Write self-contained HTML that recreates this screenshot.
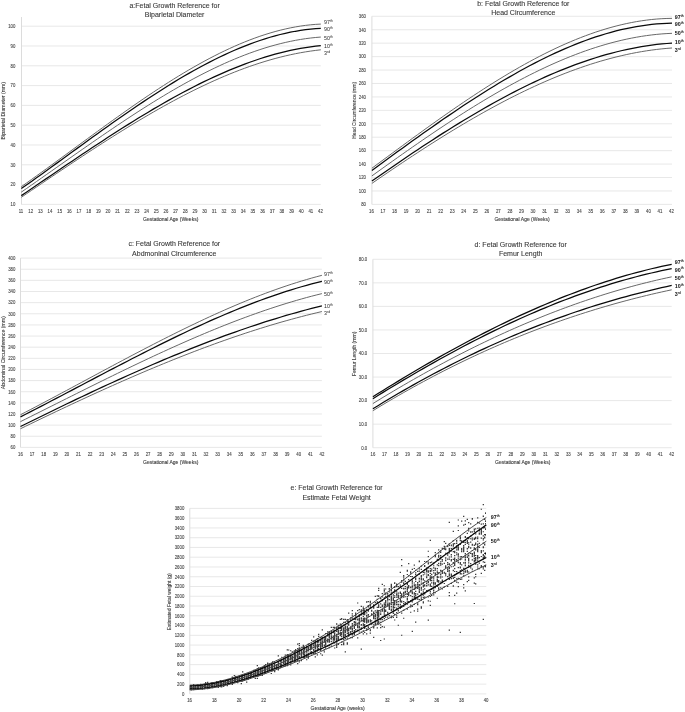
<!DOCTYPE html><html><head><meta charset="utf-8"><title>Fetal Growth Reference</title>
<style>html,body{margin:0;padding:0;background:#fff}svg{display:block}text{font-family:'Liberation Sans', sans-serif}</style></head><body>
<svg width="685" height="712" viewBox="0 0 685 712">
<rect width="685" height="712" fill="#fff"/>
<path d="M21.3 204.4H320.8M21.3 184.6H320.8M21.3 164.8H320.8M21.3 145H320.8M21.3 125.2H320.8M21.3 105.4H320.8M21.3 85.6H320.8M21.3 65.8H320.8M21.3 46H320.8M21.3 26.2H320.8" stroke="#dedede" stroke-width="0.7" fill="none"/>
<path d="M21.5 17V204.4" stroke="#dcdcdc" stroke-width="1" fill="none"/>
<g font-size="4.9" fill="#4a4a4a" stroke="#4a4a4a" stroke-width="0.12" text-anchor="end">
<text transform="translate(15.4 206.2) scale(0.88 1)">10</text>
<text transform="translate(15.4 186.4) scale(0.88 1)">20</text>
<text transform="translate(15.4 166.6) scale(0.88 1)">30</text>
<text transform="translate(15.4 146.8) scale(0.88 1)">40</text>
<text transform="translate(15.4 127) scale(0.88 1)">50</text>
<text transform="translate(15.4 107.2) scale(0.88 1)">60</text>
<text transform="translate(15.4 87.4) scale(0.88 1)">70</text>
<text transform="translate(15.4 67.6) scale(0.88 1)">80</text>
<text transform="translate(15.4 47.8) scale(0.88 1)">90</text>
<text transform="translate(15.4 28) scale(0.88 1)">100</text>
</g>
<g font-size="4.9" fill="#4a4a4a" stroke="#4a4a4a" stroke-width="0.12" text-anchor="middle">
<text transform="translate(21 212.8) scale(0.88 1)">11</text>
<text transform="translate(30.66 212.8) scale(0.88 1)">12</text>
<text transform="translate(40.32 212.8) scale(0.88 1)">13</text>
<text transform="translate(49.98 212.8) scale(0.88 1)">14</text>
<text transform="translate(59.65 212.8) scale(0.88 1)">15</text>
<text transform="translate(69.31 212.8) scale(0.88 1)">16</text>
<text transform="translate(78.97 212.8) scale(0.88 1)">17</text>
<text transform="translate(88.63 212.8) scale(0.88 1)">18</text>
<text transform="translate(98.29 212.8) scale(0.88 1)">19</text>
<text transform="translate(107.95 212.8) scale(0.88 1)">20</text>
<text transform="translate(117.61 212.8) scale(0.88 1)">21</text>
<text transform="translate(127.27 212.8) scale(0.88 1)">22</text>
<text transform="translate(136.94 212.8) scale(0.88 1)">23</text>
<text transform="translate(146.6 212.8) scale(0.88 1)">24</text>
<text transform="translate(156.26 212.8) scale(0.88 1)">25</text>
<text transform="translate(165.92 212.8) scale(0.88 1)">26</text>
<text transform="translate(175.58 212.8) scale(0.88 1)">27</text>
<text transform="translate(185.24 212.8) scale(0.88 1)">28</text>
<text transform="translate(194.9 212.8) scale(0.88 1)">29</text>
<text transform="translate(204.56 212.8) scale(0.88 1)">30</text>
<text transform="translate(214.23 212.8) scale(0.88 1)">31</text>
<text transform="translate(223.89 212.8) scale(0.88 1)">32</text>
<text transform="translate(233.55 212.8) scale(0.88 1)">33</text>
<text transform="translate(243.21 212.8) scale(0.88 1)">34</text>
<text transform="translate(252.87 212.8) scale(0.88 1)">35</text>
<text transform="translate(262.53 212.8) scale(0.88 1)">36</text>
<text transform="translate(272.19 212.8) scale(0.88 1)">37</text>
<text transform="translate(281.85 212.8) scale(0.88 1)">38</text>
<text transform="translate(291.52 212.8) scale(0.88 1)">39</text>
<text transform="translate(301.18 212.8) scale(0.88 1)">40</text>
<text transform="translate(310.84 212.8) scale(0.88 1)">41</text>
<text transform="translate(320.5 212.8) scale(0.88 1)">42</text>
</g>
<g font-size="7" fill="#383838" stroke="#383838" stroke-width="0.1" text-anchor="middle">
<text x="174.6" y="7.7">a:Fetal Growth Reference for</text>
<text x="174.6" y="17.4">Biparietal Diameter</text>
</g>
<text x="170.7" y="220.8" font-size="5" fill="#383838" stroke="#383838" stroke-width="0.1" text-anchor="middle">Gestational Age (Weeks)</text>
<text transform="translate(5.1 110.7) rotate(-90)" font-size="5" fill="#383838" stroke="#383838" stroke-width="0.1" text-anchor="middle" textLength="57.4" lengthAdjust="spacingAndGlyphs">Biparietal Diameter (mm)</text>
<path d="M21.3 186.72 L26.38 183.14 L31.45 179.53 L36.53 175.9 L41.61 172.24 L46.68 168.57 L51.76 164.88 L56.83 161.17 L61.91 157.46 L66.99 153.74 L72.06 150.01 L77.14 146.28 L82.22 142.56 L87.29 138.84 L92.37 135.12 L97.44 131.42 L102.52 127.73 L107.6 124.06 L112.67 120.4 L117.75 116.77 L122.83 113.17 L127.9 109.59 L132.98 106.04 L138.05 102.53 L143.13 99.06 L148.21 95.62 L153.28 92.23 L158.36 88.89 L163.44 85.59 L168.51 82.35 L173.59 79.16 L178.66 76.03 L183.74 72.96 L188.82 69.95 L193.89 67.02 L198.97 64.15 L204.05 61.35 L209.12 58.64 L214.2 56 L219.27 53.44 L224.35 50.96 L229.43 48.58 L234.5 46.29 L239.58 44.09 L244.66 41.98 L249.73 39.98 L254.81 38.08 L259.88 36.28 L264.96 34.6 L270.04 33.02 L275.11 31.56 L280.19 30.22 L285.27 29 L290.34 27.9 L295.42 26.93 L300.49 26.09 L305.57 25.38 L310.65 24.81 L315.72 24.37 L320.8 24.08" stroke="#606060" stroke-width="0.95" fill="none" stroke-linejoin="round"/>
<path d="M21.3 188.61 L26.38 185.02 L31.45 181.41 L36.53 177.78 L41.61 174.14 L46.68 170.48 L51.76 166.81 L56.83 163.12 L61.91 159.44 L66.99 155.75 L72.06 152.05 L77.14 148.37 L82.22 144.68 L87.29 141.01 L92.37 137.34 L97.44 133.69 L102.52 130.05 L107.6 126.43 L112.67 122.84 L117.75 119.27 L122.83 115.72 L127.9 112.21 L132.98 108.73 L138.05 105.28 L143.13 101.87 L148.21 98.51 L153.28 95.18 L158.36 91.91 L163.44 88.68 L168.51 85.51 L173.59 82.39 L178.66 79.33 L183.74 76.33 L188.82 73.39 L193.89 70.52 L198.97 67.72 L204.05 64.99 L209.12 62.33 L214.2 59.75 L219.27 57.25 L224.35 54.83 L229.43 52.5 L234.5 50.26 L239.58 48.11 L244.66 46.05 L249.73 44.09 L254.81 42.23 L259.88 40.47 L264.96 38.82 L270.04 37.27 L275.11 35.84 L280.19 34.52 L285.27 33.31 L290.34 32.22 L295.42 31.26 L300.49 30.42 L305.57 29.71 L310.65 29.12 L315.72 28.67 L320.8 28.36" stroke="#0a0a0a" stroke-width="1.25" fill="none" stroke-linejoin="round"/>
<path d="M21.3 192.12 L26.38 188.61 L31.45 185.08 L36.53 181.53 L41.61 177.98 L46.68 174.42 L51.76 170.85 L56.83 167.28 L61.91 163.71 L66.99 160.15 L72.06 156.58 L77.14 153.02 L82.22 149.48 L87.29 145.94 L92.37 142.42 L97.44 138.91 L102.52 135.42 L107.6 131.96 L112.67 128.51 L117.75 125.1 L122.83 121.71 L127.9 118.35 L132.98 115.02 L138.05 111.73 L143.13 108.48 L148.21 105.27 L153.28 102.1 L158.36 98.97 L163.44 95.9 L168.51 92.87 L173.59 89.89 L178.66 86.97 L183.74 84.11 L188.82 81.3 L193.89 78.56 L198.97 75.88 L204.05 73.27 L209.12 70.73 L214.2 68.25 L219.27 65.86 L224.35 63.53 L229.43 61.29 L234.5 59.13 L239.58 57.05 L244.66 55.05 L249.73 53.15 L254.81 51.33 L259.88 49.61 L264.96 47.98 L270.04 46.45 L275.11 45.02 L280.19 43.7 L285.27 42.47 L290.34 41.36 L295.42 40.35 L300.49 39.46 L305.57 38.68 L310.65 38.02 L315.72 37.47 L320.8 37.05" stroke="#606060" stroke-width="0.95" fill="none" stroke-linejoin="round"/>
<path d="M21.3 195.62 L26.38 192.19 L31.45 188.74 L36.53 185.29 L41.61 181.84 L46.68 178.39 L51.76 174.94 L56.83 171.49 L61.91 168.04 L66.99 164.6 L72.06 161.18 L77.14 157.76 L82.22 154.35 L87.29 150.96 L92.37 147.59 L97.44 144.23 L102.52 140.9 L107.6 137.59 L112.67 134.3 L117.75 131.05 L122.83 127.81 L127.9 124.62 L132.98 121.45 L138.05 118.32 L143.13 115.22 L148.21 112.17 L153.28 109.15 L158.36 106.18 L163.44 103.25 L168.51 100.37 L173.59 97.54 L178.66 94.75 L183.74 92.03 L188.82 89.35 L193.89 86.73 L198.97 84.18 L204.05 81.68 L209.12 79.24 L214.2 76.87 L219.27 74.57 L224.35 72.33 L229.43 70.17 L234.5 68.08 L239.58 66.06 L244.66 64.12 L249.73 62.26 L254.81 60.48 L259.88 58.78 L264.96 57.17 L270.04 55.64 L275.11 54.2 L280.19 52.85 L285.27 51.6 L290.34 50.44 L295.42 49.38 L300.49 48.41 L305.57 47.55 L310.65 46.79 L315.72 46.13 L320.8 45.58" stroke="#0a0a0a" stroke-width="1.25" fill="none" stroke-linejoin="round"/>
<path d="M21.3 197.27 L26.38 193.84 L31.45 190.41 L36.53 186.97 L41.61 183.54 L46.68 180.11 L51.76 176.69 L56.83 173.27 L61.91 169.87 L66.99 166.47 L72.06 163.09 L77.14 159.72 L82.22 156.36 L87.29 153.03 L92.37 149.71 L97.44 146.42 L102.52 143.15 L107.6 139.9 L112.67 136.68 L117.75 133.49 L122.83 130.33 L127.9 127.2 L132.98 124.11 L138.05 121.05 L143.13 118.03 L148.21 115.05 L153.28 112.11 L158.36 109.21 L163.44 106.36 L168.51 103.55 L173.59 100.79 L178.66 98.09 L183.74 95.43 L188.82 92.83 L193.89 90.28 L198.97 87.79 L204.05 85.36 L209.12 82.99 L214.2 80.68 L219.27 78.44 L224.35 76.26 L229.43 74.15 L234.5 72.11 L239.58 70.14 L244.66 68.24 L249.73 66.42 L254.81 64.68 L259.88 63.02 L264.96 61.43 L270.04 59.93 L275.11 58.51 L280.19 57.18 L285.27 55.93 L290.34 54.78 L295.42 53.71 L300.49 52.74 L305.57 51.86 L310.65 51.08 L315.72 50.4 L320.8 49.81" stroke="#606060" stroke-width="0.95" fill="none" stroke-linejoin="round"/>
<g font-size="5.9" fill="#2c2c2c" font-weight="normal">
<text transform="translate(324 24) scale(0.91 1)">97<tspan font-size="3.9" dy="-2.1">th</tspan></text>
<text transform="translate(324 31.1) scale(0.91 1)">90<tspan font-size="3.9" dy="-2.1">th</tspan></text>
<text transform="translate(324 39.8) scale(0.91 1)">50<tspan font-size="3.9" dy="-2.1">th</tspan></text>
<text transform="translate(324 47.9) scale(0.91 1)">10<tspan font-size="3.9" dy="-2.1">th</tspan></text>
<text transform="translate(324 55.3) scale(0.91 1)">3<tspan font-size="3.9" dy="-2.1">rd</tspan></text>
</g>
<path d="M371.9 204.4H672M371.9 190.96H672M371.9 177.53H672M371.9 164.09H672M371.9 150.66H672M371.9 137.22H672M371.9 123.79H672M371.9 110.35H672M371.9 96.91H672M371.9 83.48H672M371.9 70.04H672M371.9 56.61H672M371.9 43.17H672M371.9 29.74H672M371.9 16.3H672" stroke="#dedede" stroke-width="0.7" fill="none"/>
<path d="M371.9 16.3V204.4" stroke="#dcdcdc" stroke-width="1" fill="none"/>
<g font-size="4.9" fill="#4a4a4a" stroke="#4a4a4a" stroke-width="0.12" text-anchor="end">
<text transform="translate(366 206.2) scale(0.88 1)">80</text>
<text transform="translate(366 192.76) scale(0.88 1)">100</text>
<text transform="translate(366 179.33) scale(0.88 1)">120</text>
<text transform="translate(366 165.89) scale(0.88 1)">140</text>
<text transform="translate(366 152.46) scale(0.88 1)">160</text>
<text transform="translate(366 139.02) scale(0.88 1)">180</text>
<text transform="translate(366 125.59) scale(0.88 1)">200</text>
<text transform="translate(366 112.15) scale(0.88 1)">220</text>
<text transform="translate(366 98.71) scale(0.88 1)">240</text>
<text transform="translate(366 85.28) scale(0.88 1)">260</text>
<text transform="translate(366 71.84) scale(0.88 1)">280</text>
<text transform="translate(366 58.41) scale(0.88 1)">300</text>
<text transform="translate(366 44.97) scale(0.88 1)">320</text>
<text transform="translate(366 31.54) scale(0.88 1)">340</text>
<text transform="translate(366 18.1) scale(0.88 1)">360</text>
</g>
<g font-size="4.9" fill="#4a4a4a" stroke="#4a4a4a" stroke-width="0.12" text-anchor="middle">
<text transform="translate(371.4 212.8) scale(0.88 1)">16</text>
<text transform="translate(382.94 212.8) scale(0.88 1)">17</text>
<text transform="translate(394.48 212.8) scale(0.88 1)">18</text>
<text transform="translate(406.03 212.8) scale(0.88 1)">19</text>
<text transform="translate(417.57 212.8) scale(0.88 1)">20</text>
<text transform="translate(429.11 212.8) scale(0.88 1)">21</text>
<text transform="translate(440.65 212.8) scale(0.88 1)">22</text>
<text transform="translate(452.2 212.8) scale(0.88 1)">23</text>
<text transform="translate(463.74 212.8) scale(0.88 1)">24</text>
<text transform="translate(475.28 212.8) scale(0.88 1)">25</text>
<text transform="translate(486.82 212.8) scale(0.88 1)">26</text>
<text transform="translate(498.37 212.8) scale(0.88 1)">27</text>
<text transform="translate(509.91 212.8) scale(0.88 1)">28</text>
<text transform="translate(521.45 212.8) scale(0.88 1)">29</text>
<text transform="translate(532.99 212.8) scale(0.88 1)">30</text>
<text transform="translate(544.53 212.8) scale(0.88 1)">31</text>
<text transform="translate(556.08 212.8) scale(0.88 1)">32</text>
<text transform="translate(567.62 212.8) scale(0.88 1)">33</text>
<text transform="translate(579.16 212.8) scale(0.88 1)">34</text>
<text transform="translate(590.7 212.8) scale(0.88 1)">35</text>
<text transform="translate(602.25 212.8) scale(0.88 1)">36</text>
<text transform="translate(613.79 212.8) scale(0.88 1)">37</text>
<text transform="translate(625.33 212.8) scale(0.88 1)">38</text>
<text transform="translate(636.87 212.8) scale(0.88 1)">39</text>
<text transform="translate(648.42 212.8) scale(0.88 1)">40</text>
<text transform="translate(659.96 212.8) scale(0.88 1)">41</text>
<text transform="translate(671.5 212.8) scale(0.88 1)">42</text>
</g>
<g font-size="7" fill="#383838" stroke="#383838" stroke-width="0.1" text-anchor="middle">
<text x="523.3" y="6.1">b: Fetal Growth Reference for</text>
<text x="523.3" y="15.4">Head Circumference</text>
</g>
<text x="522" y="220.8" font-size="5" fill="#383838" stroke="#383838" stroke-width="0.1" text-anchor="middle">Gestational Age (Weeks)</text>
<text transform="translate(355.5 110.3) rotate(-90)" font-size="5" fill="#383838" stroke="#383838" stroke-width="0.1" text-anchor="middle" textLength="57" lengthAdjust="spacingAndGlyphs">Head Circumference (mm)</text>
<path d="M371.9 168.24 L376.99 164.47 L382.07 160.71 L387.16 156.95 L392.25 153.19 L397.33 149.45 L402.42 145.71 L407.51 141.98 L412.59 138.26 L417.68 134.57 L422.76 130.88 L427.85 127.22 L432.94 123.58 L438.02 119.97 L443.11 116.38 L448.2 112.83 L453.28 109.3 L458.37 105.8 L463.46 102.35 L468.54 98.92 L473.63 95.54 L478.72 92.21 L483.8 88.91 L488.89 85.66 L493.97 82.46 L499.06 79.32 L504.15 76.22 L509.23 73.18 L514.32 70.2 L519.41 67.28 L524.49 64.42 L529.58 61.62 L534.67 58.89 L539.75 56.23 L544.84 53.64 L549.93 51.13 L555.01 48.68 L560.1 46.32 L565.18 44.03 L570.27 41.83 L575.36 39.71 L580.44 37.68 L585.53 35.74 L590.62 33.88 L595.7 32.12 L600.79 30.46 L605.88 28.89 L610.96 27.42 L616.05 26.05 L621.14 24.79 L626.22 23.63 L631.31 22.58 L636.39 21.64 L641.48 20.82 L646.57 20.11 L651.65 19.51 L656.74 19.04 L661.83 18.69 L666.91 18.46 L672 18.36" stroke="#606060" stroke-width="0.95" fill="none" stroke-linejoin="round"/>
<path d="M371.9 170.39 L376.99 166.67 L382.07 162.95 L387.16 159.24 L392.25 155.54 L397.33 151.85 L402.42 148.16 L407.51 144.49 L412.59 140.84 L417.68 137.2 L422.76 133.59 L427.85 129.99 L432.94 126.42 L438.02 122.87 L443.11 119.36 L448.2 115.87 L453.28 112.41 L458.37 108.99 L463.46 105.6 L468.54 102.25 L473.63 98.95 L478.72 95.68 L483.8 92.46 L488.89 89.28 L493.97 86.16 L499.06 83.08 L504.15 80.06 L509.23 77.09 L514.32 74.17 L519.41 71.32 L524.49 68.53 L529.58 65.8 L534.67 63.13 L539.75 60.53 L544.84 58 L549.93 55.54 L555.01 53.15 L560.1 50.84 L565.18 48.61 L570.27 46.46 L575.36 44.38 L580.44 42.39 L585.53 40.49 L590.62 38.67 L595.7 36.94 L600.79 35.31 L605.88 33.76 L610.96 32.32 L616.05 30.97 L621.14 29.72 L626.22 28.57 L631.31 27.53 L636.39 26.59 L641.48 25.76 L646.57 25.04 L651.65 24.43 L656.74 23.94 L661.83 23.56 L666.91 23.31 L672 23.17" stroke="#0a0a0a" stroke-width="1.25" fill="none" stroke-linejoin="round"/>
<path d="M371.9 175.92 L376.99 172.26 L382.07 168.61 L387.16 164.97 L392.25 161.35 L397.33 157.74 L402.42 154.15 L407.51 150.57 L412.59 147.02 L417.68 143.5 L422.76 139.99 L427.85 136.52 L432.94 133.07 L438.02 129.65 L443.11 126.26 L448.2 122.9 L453.28 119.58 L458.37 116.3 L463.46 113.05 L468.54 109.84 L473.63 106.68 L478.72 103.55 L483.8 100.48 L488.89 97.44 L493.97 94.46 L499.06 91.52 L504.15 88.64 L509.23 85.81 L514.32 83.04 L519.41 80.32 L524.49 77.66 L529.58 75.06 L534.67 72.52 L539.75 70.04 L544.84 67.63 L549.93 65.28 L555.01 63.01 L560.1 60.8 L565.18 58.66 L570.27 56.6 L575.36 54.61 L580.44 52.7 L585.53 50.87 L590.62 49.12 L595.7 47.45 L600.79 45.86 L605.88 44.36 L610.96 42.94 L616.05 41.61 L621.14 40.38 L626.22 39.23 L631.31 38.18 L636.39 37.22 L641.48 36.36 L646.57 35.6 L651.65 34.94 L656.74 34.38 L661.83 33.92 L666.91 33.57 L672 33.32" stroke="#606060" stroke-width="0.95" fill="none" stroke-linejoin="round"/>
<path d="M371.9 181.07 L376.99 177.51 L382.07 173.96 L387.16 170.43 L392.25 166.92 L397.33 163.43 L402.42 159.96 L407.51 156.52 L412.59 153.09 L417.68 149.7 L422.76 146.33 L427.85 142.99 L432.94 139.68 L438.02 136.4 L443.11 133.15 L448.2 129.94 L453.28 126.76 L458.37 123.62 L463.46 120.52 L468.54 117.45 L473.63 114.43 L478.72 111.45 L483.8 108.51 L488.89 105.62 L493.97 102.77 L499.06 99.98 L504.15 97.23 L509.23 94.53 L514.32 91.88 L519.41 89.29 L524.49 86.75 L529.58 84.27 L534.67 81.84 L539.75 79.48 L544.84 77.17 L549.93 74.93 L555.01 72.75 L560.1 70.63 L565.18 68.58 L570.27 66.6 L575.36 64.68 L580.44 62.84 L585.53 61.06 L590.62 59.36 L595.7 57.73 L600.79 56.18 L605.88 54.71 L610.96 53.31 L616.05 51.99 L621.14 50.76 L626.22 49.6 L631.31 48.53 L636.39 47.55 L641.48 46.65 L646.57 45.84 L651.65 45.12 L656.74 44.49 L661.83 43.95 L666.91 43.5 L672 43.15" stroke="#0a0a0a" stroke-width="1.25" fill="none" stroke-linejoin="round"/>
<path d="M371.9 183.41 L376.99 179.9 L382.07 176.41 L387.16 172.94 L392.25 169.49 L397.33 166.05 L402.42 162.65 L407.51 159.26 L412.59 155.91 L417.68 152.58 L422.76 149.27 L427.85 146 L432.94 142.76 L438.02 139.55 L443.11 136.37 L448.2 133.22 L453.28 130.12 L458.37 127.05 L463.46 124.01 L468.54 121.02 L473.63 118.07 L478.72 115.16 L483.8 112.29 L488.89 109.47 L493.97 106.69 L499.06 103.96 L504.15 101.28 L509.23 98.64 L514.32 96.06 L519.41 93.53 L524.49 91.06 L529.58 88.63 L534.67 86.27 L539.75 83.96 L544.84 81.7 L549.93 79.51 L555.01 77.38 L560.1 75.31 L565.18 73.3 L570.27 71.36 L575.36 69.49 L580.44 67.68 L585.53 65.94 L590.62 64.26 L595.7 62.66 L600.79 61.14 L605.88 59.68 L610.96 58.3 L616.05 56.99 L621.14 55.77 L626.22 54.62 L631.31 53.54 L636.39 52.56 L641.48 51.65 L646.57 50.82 L651.65 50.08 L656.74 49.43 L661.83 48.86 L666.91 48.38 L672 47.99" stroke="#606060" stroke-width="0.95" fill="none" stroke-linejoin="round"/>
<g font-size="5.9" fill="#111" font-weight="bold">
<text transform="translate(674.8 18.7) scale(0.91 1)">97<tspan font-size="3.4" dy="-2.1">th</tspan></text>
<text transform="translate(674.8 26.1) scale(0.91 1)">90<tspan font-size="3.4" dy="-2.1">th</tspan></text>
<text transform="translate(674.8 34.8) scale(0.91 1)">50<tspan font-size="3.4" dy="-2.1">th</tspan></text>
<text transform="translate(674.8 44.2) scale(0.91 1)">10<tspan font-size="3.4" dy="-2.1">th</tspan></text>
<text transform="translate(674.8 51.6) scale(0.91 1)">3<tspan font-size="3.4" dy="-2.1">rd</tspan></text>
</g>
<path d="M20.5 447.4H321.9M20.5 436.26H321.9M20.5 425.13H321.9M20.5 413.99H321.9M20.5 402.86H321.9M20.5 391.72H321.9M20.5 380.59H321.9M20.5 369.45H321.9M20.5 358.32H321.9M20.5 347.18H321.9M20.5 336.05H321.9M20.5 324.91H321.9M20.5 313.78H321.9M20.5 302.64H321.9M20.5 291.51H321.9M20.5 280.37H321.9M20.5 269.24H321.9M20.5 258.1H321.9" stroke="#dedede" stroke-width="0.7" fill="none"/>
<path d="M20.5 258.1V447.4" stroke="#dcdcdc" stroke-width="1" fill="none"/>
<g font-size="4.9" fill="#4a4a4a" stroke="#4a4a4a" stroke-width="0.12" text-anchor="end">
<text transform="translate(15.4 449.2) scale(0.88 1)">60</text>
<text transform="translate(15.4 438.06) scale(0.88 1)">80</text>
<text transform="translate(15.4 426.93) scale(0.88 1)">100</text>
<text transform="translate(15.4 415.79) scale(0.88 1)">120</text>
<text transform="translate(15.4 404.66) scale(0.88 1)">140</text>
<text transform="translate(15.4 393.52) scale(0.88 1)">160</text>
<text transform="translate(15.4 382.39) scale(0.88 1)">180</text>
<text transform="translate(15.4 371.25) scale(0.88 1)">200</text>
<text transform="translate(15.4 360.12) scale(0.88 1)">220</text>
<text transform="translate(15.4 348.98) scale(0.88 1)">240</text>
<text transform="translate(15.4 337.85) scale(0.88 1)">260</text>
<text transform="translate(15.4 326.71) scale(0.88 1)">280</text>
<text transform="translate(15.4 315.58) scale(0.88 1)">300</text>
<text transform="translate(15.4 304.44) scale(0.88 1)">320</text>
<text transform="translate(15.4 293.31) scale(0.88 1)">340</text>
<text transform="translate(15.4 282.17) scale(0.88 1)">360</text>
<text transform="translate(15.4 271.04) scale(0.88 1)">380</text>
<text transform="translate(15.4 259.9) scale(0.88 1)">400</text>
</g>
<g font-size="4.9" fill="#4a4a4a" stroke="#4a4a4a" stroke-width="0.12" text-anchor="middle">
<text transform="translate(20.5 455.8) scale(0.88 1)">16</text>
<text transform="translate(32.09 455.8) scale(0.88 1)">17</text>
<text transform="translate(43.68 455.8) scale(0.88 1)">18</text>
<text transform="translate(55.28 455.8) scale(0.88 1)">19</text>
<text transform="translate(66.87 455.8) scale(0.88 1)">20</text>
<text transform="translate(78.46 455.8) scale(0.88 1)">21</text>
<text transform="translate(90.05 455.8) scale(0.88 1)">22</text>
<text transform="translate(101.65 455.8) scale(0.88 1)">23</text>
<text transform="translate(113.24 455.8) scale(0.88 1)">24</text>
<text transform="translate(124.83 455.8) scale(0.88 1)">25</text>
<text transform="translate(136.42 455.8) scale(0.88 1)">26</text>
<text transform="translate(148.02 455.8) scale(0.88 1)">27</text>
<text transform="translate(159.61 455.8) scale(0.88 1)">28</text>
<text transform="translate(171.2 455.8) scale(0.88 1)">29</text>
<text transform="translate(182.79 455.8) scale(0.88 1)">30</text>
<text transform="translate(194.38 455.8) scale(0.88 1)">31</text>
<text transform="translate(205.98 455.8) scale(0.88 1)">32</text>
<text transform="translate(217.57 455.8) scale(0.88 1)">33</text>
<text transform="translate(229.16 455.8) scale(0.88 1)">34</text>
<text transform="translate(240.75 455.8) scale(0.88 1)">35</text>
<text transform="translate(252.35 455.8) scale(0.88 1)">36</text>
<text transform="translate(263.94 455.8) scale(0.88 1)">37</text>
<text transform="translate(275.53 455.8) scale(0.88 1)">38</text>
<text transform="translate(287.12 455.8) scale(0.88 1)">39</text>
<text transform="translate(298.72 455.8) scale(0.88 1)">40</text>
<text transform="translate(310.31 455.8) scale(0.88 1)">41</text>
<text transform="translate(321.9 455.8) scale(0.88 1)">42</text>
</g>
<g font-size="7" fill="#383838" stroke="#383838" stroke-width="0.1" text-anchor="middle">
<text x="174.3" y="246.1">c: Fetal Growth Reference for</text>
<text x="174.3" y="255.7">Abdmoninal Circumference</text>
</g>
<text x="170.7" y="463.8" font-size="5" fill="#383838" stroke="#383838" stroke-width="0.1" text-anchor="middle">Gestational Age (Weeks)</text>
<text transform="translate(5.1 352.7) rotate(-90)" font-size="5" fill="#383838" stroke="#383838" stroke-width="0.1" text-anchor="middle" textLength="73" lengthAdjust="spacingAndGlyphs">Abdominal Circumference (mm)</text>
<path d="M20.5 414.74 L25.61 412.1 L30.72 409.43 L35.83 406.76 L40.93 404.07 L46.04 401.37 L51.15 398.66 L56.26 395.94 L61.37 393.21 L66.48 390.48 L71.58 387.74 L76.69 385 L81.8 382.25 L86.91 379.51 L92.02 376.76 L97.13 374.02 L102.24 371.28 L107.34 368.54 L112.45 365.81 L117.56 363.09 L122.67 360.38 L127.78 357.67 L132.89 354.98 L137.99 352.3 L143.1 349.63 L148.21 346.98 L153.32 344.35 L158.43 341.73 L163.54 339.13 L168.65 336.55 L173.75 334 L178.86 331.46 L183.97 328.95 L189.08 326.47 L194.19 324.02 L199.3 321.59 L204.41 319.19 L209.51 316.82 L214.62 314.49 L219.73 312.19 L224.84 309.93 L229.95 307.7 L235.06 305.51 L240.16 303.35 L245.27 301.24 L250.38 299.17 L255.49 297.15 L260.6 295.17 L265.71 293.23 L270.82 291.34 L275.92 289.5 L281.03 287.71 L286.14 285.97 L291.25 284.28 L296.36 282.65 L301.47 281.07 L306.57 279.55 L311.68 278.08 L316.79 276.68 L321.9 275.34" stroke="#606060" stroke-width="0.95" fill="none" stroke-linejoin="round"/>
<path d="M20.5 416.89 L25.61 414.28 L30.72 411.67 L35.83 409.03 L40.93 406.39 L46.04 403.74 L51.15 401.07 L56.26 398.4 L61.37 395.73 L66.48 393.05 L71.58 390.36 L76.69 387.67 L81.8 384.98 L86.91 382.29 L92.02 379.61 L97.13 376.92 L102.24 374.24 L107.34 371.57 L112.45 368.9 L117.56 366.24 L122.67 363.58 L127.78 360.94 L132.89 358.31 L137.99 355.7 L143.1 353.1 L148.21 350.51 L153.32 347.94 L158.43 345.39 L163.54 342.86 L168.65 340.35 L173.75 337.86 L178.86 335.4 L183.97 332.96 L189.08 330.55 L194.19 328.16 L199.3 325.81 L204.41 323.48 L209.51 321.19 L214.62 318.93 L219.73 316.7 L224.84 314.5 L229.95 312.35 L235.06 310.23 L240.16 308.15 L245.27 306.11 L250.38 304.12 L255.49 302.16 L260.6 300.25 L265.71 298.39 L270.82 296.58 L275.92 294.81 L281.03 293.09 L286.14 291.42 L291.25 289.81 L296.36 288.25 L301.47 286.74 L306.57 285.29 L311.68 283.9 L316.79 282.56 L321.9 281.29" stroke="#0a0a0a" stroke-width="1.25" fill="none" stroke-linejoin="round"/>
<path d="M20.5 421.62 L25.61 419.08 L30.72 416.53 L35.83 413.98 L40.93 411.43 L46.04 408.87 L51.15 406.31 L56.26 403.75 L61.37 401.19 L66.48 398.63 L71.58 396.08 L76.69 393.52 L81.8 390.98 L86.91 388.43 L92.02 385.89 L97.13 383.36 L102.24 380.84 L107.34 378.33 L112.45 375.83 L117.56 373.33 L122.67 370.85 L127.78 368.39 L132.89 365.93 L137.99 363.49 L143.1 361.07 L148.21 358.66 L153.32 356.27 L158.43 353.9 L163.54 351.55 L168.65 349.22 L173.75 346.91 L178.86 344.63 L183.97 342.36 L189.08 340.12 L194.19 337.91 L199.3 335.72 L204.41 333.56 L209.51 331.43 L214.62 329.33 L219.73 327.26 L224.84 325.21 L229.95 323.2 L235.06 321.23 L240.16 319.29 L245.27 317.38 L250.38 315.51 L255.49 313.67 L260.6 311.87 L265.71 310.12 L270.82 308.4 L275.92 306.72 L281.03 305.08 L286.14 303.49 L291.25 301.94 L296.36 300.43 L301.47 298.97 L306.57 297.56 L311.68 296.2 L316.79 294.88 L321.9 293.61" stroke="#606060" stroke-width="0.95" fill="none" stroke-linejoin="round"/>
<path d="M20.5 426.48 L25.61 423.96 L30.72 421.45 L35.83 418.94 L40.93 416.44 L46.04 413.94 L51.15 411.46 L56.26 408.98 L61.37 406.51 L66.48 404.05 L71.58 401.6 L76.69 399.16 L81.8 396.74 L86.91 394.32 L92.02 391.92 L97.13 389.53 L102.24 387.16 L107.34 384.8 L112.45 382.45 L117.56 380.12 L122.67 377.81 L127.78 375.51 L132.89 373.23 L137.99 370.97 L143.1 368.72 L148.21 366.49 L153.32 364.29 L158.43 362.1 L163.54 359.93 L168.65 357.78 L173.75 355.66 L178.86 353.56 L183.97 351.48 L189.08 349.42 L194.19 347.39 L199.3 345.38 L204.41 343.39 L209.51 341.43 L214.62 339.5 L219.73 337.59 L224.84 335.71 L229.95 333.86 L235.06 332.04 L240.16 330.24 L245.27 328.48 L250.38 326.74 L255.49 325.04 L260.6 323.36 L265.71 321.72 L270.82 320.11 L275.92 318.53 L281.03 316.98 L286.14 315.47 L291.25 313.99 L296.36 312.55 L301.47 311.15 L306.57 309.77 L311.68 308.44 L316.79 307.14 L321.9 305.88" stroke="#0a0a0a" stroke-width="1.25" fill="none" stroke-linejoin="round"/>
<path d="M20.5 428.72 L25.61 426.24 L30.72 423.76 L35.83 421.3 L40.93 418.84 L46.04 416.39 L51.15 413.96 L56.26 411.53 L61.37 409.11 L66.48 406.7 L71.58 404.3 L76.69 401.92 L81.8 399.55 L86.91 397.19 L92.02 394.84 L97.13 392.51 L102.24 390.19 L107.34 387.89 L112.45 385.6 L117.56 383.33 L122.67 381.08 L127.78 378.84 L132.89 376.62 L137.99 374.42 L143.1 372.23 L148.21 370.07 L153.32 367.92 L158.43 365.8 L163.54 363.69 L168.65 361.61 L173.75 359.55 L178.86 357.51 L183.97 355.5 L189.08 353.5 L194.19 351.53 L199.3 349.59 L204.41 347.67 L209.51 345.77 L214.62 343.9 L219.73 342.06 L224.84 340.25 L229.95 338.46 L235.06 336.7 L240.16 334.97 L245.27 333.26 L250.38 331.59 L255.49 329.95 L260.6 328.33 L265.71 326.75 L270.82 325.2 L275.92 323.68 L281.03 322.2 L286.14 320.75 L291.25 319.33 L296.36 317.94 L301.47 316.59 L306.57 315.28 L311.68 314 L316.79 312.76 L321.9 311.55" stroke="#606060" stroke-width="0.95" fill="none" stroke-linejoin="round"/>
<g font-size="5.9" fill="#2c2c2c" font-weight="normal">
<text transform="translate(324 276.2) scale(0.91 1)">97<tspan font-size="3.9" dy="-2.1">th</tspan></text>
<text transform="translate(324 283.6) scale(0.91 1)">90<tspan font-size="3.9" dy="-2.1">th</tspan></text>
<text transform="translate(324 295.7) scale(0.91 1)">50<tspan font-size="3.9" dy="-2.1">th</tspan></text>
<text transform="translate(324 308) scale(0.91 1)">10<tspan font-size="3.9" dy="-2.1">th</tspan></text>
<text transform="translate(324 315.4) scale(0.91 1)">3<tspan font-size="3.9" dy="-2.1">rd</tspan></text>
</g>
<path d="M372.9 447.7H671.7M372.9 424.15H671.7M372.9 400.6H671.7M372.9 377.05H671.7M372.9 353.5H671.7M372.9 329.95H671.7M372.9 306.4H671.7M372.9 282.85H671.7M372.9 259.3H671.7" stroke="#dedede" stroke-width="0.7" fill="none"/>
<path d="M372.9 259.3V447.7" stroke="#dcdcdc" stroke-width="1" fill="none"/>
<g font-size="4.9" fill="#4a4a4a" stroke="#4a4a4a" stroke-width="0.12" text-anchor="end">
<text transform="translate(367.2 449.5) scale(0.88 1)">0.0</text>
<text transform="translate(367.2 425.95) scale(0.88 1)">10.0</text>
<text transform="translate(367.2 402.4) scale(0.88 1)">20.0</text>
<text transform="translate(367.2 378.85) scale(0.88 1)">30.0</text>
<text transform="translate(367.2 355.3) scale(0.88 1)">40.0</text>
<text transform="translate(367.2 331.75) scale(0.88 1)">50.0</text>
<text transform="translate(367.2 308.2) scale(0.88 1)">60.0</text>
<text transform="translate(367.2 284.65) scale(0.88 1)">70.0</text>
<text transform="translate(367.2 261.1) scale(0.88 1)">80.0</text>
</g>
<g font-size="4.9" fill="#4a4a4a" stroke="#4a4a4a" stroke-width="0.12" text-anchor="middle">
<text transform="translate(372.9 455.8) scale(0.88 1)">16</text>
<text transform="translate(384.39 455.8) scale(0.88 1)">17</text>
<text transform="translate(395.88 455.8) scale(0.88 1)">18</text>
<text transform="translate(407.38 455.8) scale(0.88 1)">19</text>
<text transform="translate(418.87 455.8) scale(0.88 1)">20</text>
<text transform="translate(430.36 455.8) scale(0.88 1)">21</text>
<text transform="translate(441.85 455.8) scale(0.88 1)">22</text>
<text transform="translate(453.35 455.8) scale(0.88 1)">23</text>
<text transform="translate(464.84 455.8) scale(0.88 1)">24</text>
<text transform="translate(476.33 455.8) scale(0.88 1)">25</text>
<text transform="translate(487.82 455.8) scale(0.88 1)">26</text>
<text transform="translate(499.32 455.8) scale(0.88 1)">27</text>
<text transform="translate(510.81 455.8) scale(0.88 1)">28</text>
<text transform="translate(522.3 455.8) scale(0.88 1)">29</text>
<text transform="translate(533.79 455.8) scale(0.88 1)">30</text>
<text transform="translate(545.28 455.8) scale(0.88 1)">31</text>
<text transform="translate(556.78 455.8) scale(0.88 1)">32</text>
<text transform="translate(568.27 455.8) scale(0.88 1)">33</text>
<text transform="translate(579.76 455.8) scale(0.88 1)">34</text>
<text transform="translate(591.25 455.8) scale(0.88 1)">35</text>
<text transform="translate(602.75 455.8) scale(0.88 1)">36</text>
<text transform="translate(614.24 455.8) scale(0.88 1)">37</text>
<text transform="translate(625.73 455.8) scale(0.88 1)">38</text>
<text transform="translate(637.22 455.8) scale(0.88 1)">39</text>
<text transform="translate(648.72 455.8) scale(0.88 1)">40</text>
<text transform="translate(660.21 455.8) scale(0.88 1)">41</text>
<text transform="translate(671.7 455.8) scale(0.88 1)">42</text>
</g>
<g font-size="7" fill="#383838" stroke="#383838" stroke-width="0.1" text-anchor="middle">
<text x="520.7" y="246.5">d: Fetal Growth Reference for</text>
<text x="520.7" y="256.2">Femur Length</text>
</g>
<text x="522.7" y="464.3" font-size="5" fill="#383838" stroke="#383838" stroke-width="0.1" text-anchor="middle">Gestational Age (Weeks)</text>
<text transform="translate(355.5 353.9) rotate(-90)" font-size="5" fill="#383838" stroke="#383838" stroke-width="0.1" text-anchor="middle" textLength="44.5" lengthAdjust="spacingAndGlyphs">Femur Length (mm)</text>
<path d="M372.9 396.75 L377.96 393.58 L383.03 390.42 L388.09 387.29 L393.16 384.18 L398.22 381.1 L403.29 378.04 L408.35 375.01 L413.42 372 L418.48 369.02 L423.54 366.07 L428.61 363.14 L433.67 360.24 L438.74 357.37 L443.8 354.53 L448.87 351.72 L453.93 348.93 L458.99 346.18 L464.06 343.46 L469.12 340.77 L474.19 338.11 L479.25 335.48 L484.32 332.88 L489.38 330.32 L494.45 327.79 L499.51 325.3 L504.57 322.84 L509.64 320.41 L514.7 318.02 L519.77 315.67 L524.83 313.35 L529.9 311.07 L534.96 308.83 L540.03 306.63 L545.09 304.46 L550.15 302.34 L555.22 300.25 L560.28 298.2 L565.35 296.19 L570.41 294.23 L575.48 292.3 L580.54 290.42 L585.61 288.58 L590.67 286.78 L595.73 285.03 L600.8 283.32 L605.86 281.66 L610.93 280.04 L615.99 278.46 L621.06 276.93 L626.12 275.45 L631.18 274.01 L636.25 272.62 L641.31 271.28 L646.38 269.99 L651.44 268.75 L656.51 267.55 L661.57 266.41 L666.64 265.31 L671.7 264.27" stroke="#0a0a0a" stroke-width="1.25" fill="none" stroke-linejoin="round"/>
<path d="M372.9 398.67 L377.96 395.52 L383.03 392.4 L388.09 389.3 L393.16 386.23 L398.22 383.18 L403.29 380.16 L408.35 377.17 L413.42 374.2 L418.48 371.25 L423.54 368.34 L428.61 365.45 L433.67 362.59 L438.74 359.76 L443.8 356.96 L448.87 354.19 L453.93 351.45 L458.99 348.74 L464.06 346.06 L469.12 343.42 L474.19 340.8 L479.25 338.22 L484.32 335.67 L489.38 333.15 L494.45 330.67 L499.51 328.22 L504.57 325.81 L509.64 323.43 L514.7 321.09 L519.77 318.78 L524.83 316.51 L529.9 314.28 L534.96 312.08 L540.03 309.93 L545.09 307.81 L550.15 305.73 L555.22 303.69 L560.28 301.68 L565.35 299.72 L570.41 297.8 L575.48 295.92 L580.54 294.09 L585.61 292.29 L590.67 290.54 L595.73 288.83 L600.8 287.16 L605.86 285.54 L610.93 283.96 L615.99 282.43 L621.06 280.94 L626.12 279.5 L631.18 278.1 L636.25 276.76 L641.31 275.45 L646.38 274.2 L651.44 272.99 L656.51 271.83 L661.57 270.72 L666.64 269.66 L671.7 268.65" stroke="#0a0a0a" stroke-width="1.25" fill="none" stroke-linejoin="round"/>
<path d="M372.9 403.57 L377.96 400.46 L383.03 397.37 L388.09 394.32 L393.16 391.29 L398.22 388.3 L403.29 385.33 L408.35 382.4 L413.42 379.5 L418.48 376.63 L423.54 373.79 L428.61 370.98 L433.67 368.2 L438.74 365.46 L443.8 362.75 L448.87 360.06 L453.93 357.42 L458.99 354.8 L464.06 352.22 L469.12 349.67 L474.19 347.15 L479.25 344.67 L484.32 342.22 L489.38 339.81 L494.45 337.42 L499.51 335.08 L504.57 332.76 L509.64 330.48 L514.7 328.24 L519.77 326.03 L524.83 323.85 L529.9 321.72 L534.96 319.61 L540.03 317.54 L545.09 315.51 L550.15 313.51 L555.22 311.55 L560.28 309.63 L565.35 307.74 L570.41 305.89 L575.48 304.07 L580.54 302.3 L585.61 300.56 L590.67 298.85 L595.73 297.19 L600.8 295.56 L605.86 293.97 L610.93 292.42 L615.99 290.91 L621.06 289.43 L626.12 288 L631.18 286.6 L636.25 285.24 L641.31 283.92 L646.38 282.64 L651.44 281.4 L656.51 280.2 L661.57 279.04 L666.64 277.92 L671.7 276.84" stroke="#606060" stroke-width="0.95" fill="none" stroke-linejoin="round"/>
<path d="M372.9 408.79 L377.96 405.67 L383.03 402.59 L388.09 399.54 L393.16 396.54 L398.22 393.57 L403.29 390.63 L408.35 387.73 L413.42 384.87 L418.48 382.05 L423.54 379.26 L428.61 376.5 L433.67 373.78 L438.74 371.1 L443.8 368.46 L448.87 365.85 L453.93 363.27 L458.99 360.73 L464.06 358.23 L469.12 355.76 L474.19 353.33 L479.25 350.93 L484.32 348.57 L489.38 346.25 L494.45 343.95 L499.51 341.7 L504.57 339.48 L509.64 337.29 L514.7 335.14 L519.77 333.02 L524.83 330.94 L529.9 328.9 L534.96 326.89 L540.03 324.91 L545.09 322.97 L550.15 321.06 L555.22 319.18 L560.28 317.34 L565.35 315.54 L570.41 313.77 L575.48 312.03 L580.54 310.33 L585.61 308.66 L590.67 307.03 L595.73 305.43 L600.8 303.86 L605.86 302.33 L610.93 300.83 L615.99 299.36 L621.06 297.93 L626.12 296.53 L631.18 295.17 L636.25 293.83 L641.31 292.54 L646.38 291.27 L651.44 290.04 L656.51 288.84 L661.57 287.68 L666.64 286.54 L671.7 285.44" stroke="#0a0a0a" stroke-width="1.25" fill="none" stroke-linejoin="round"/>
<path d="M372.9 410.72 L377.96 407.63 L383.03 404.58 L388.09 401.57 L393.16 398.6 L398.22 395.66 L403.29 392.76 L408.35 389.9 L413.42 387.08 L418.48 384.29 L423.54 381.55 L428.61 378.83 L433.67 376.16 L438.74 373.52 L443.8 370.92 L448.87 368.36 L453.93 365.83 L458.99 363.34 L464.06 360.88 L469.12 358.46 L474.19 356.08 L479.25 353.73 L484.32 351.42 L489.38 349.15 L494.45 346.91 L499.51 344.7 L504.57 342.53 L509.64 340.4 L514.7 338.3 L519.77 336.23 L524.83 334.2 L529.9 332.2 L534.96 330.24 L540.03 328.32 L545.09 326.42 L550.15 324.56 L555.22 322.74 L560.28 320.95 L565.35 319.19 L570.41 317.46 L575.48 315.77 L580.54 314.11 L585.61 312.49 L590.67 310.9 L595.73 309.34 L600.8 307.81 L605.86 306.32 L610.93 304.85 L615.99 303.42 L621.06 302.03 L626.12 300.66 L631.18 299.33 L636.25 298.03 L641.31 296.76 L646.38 295.52 L651.44 294.31 L656.51 293.14 L661.57 291.99 L666.64 290.88 L671.7 289.8" stroke="#606060" stroke-width="0.95" fill="none" stroke-linejoin="round"/>
<g font-size="5.9" fill="#111" font-weight="bold">
<text transform="translate(674.8 264) scale(0.91 1)">97<tspan font-size="3.4" dy="-2.1">th</tspan></text>
<text transform="translate(674.8 271.5) scale(0.91 1)">90<tspan font-size="3.4" dy="-2.1">th</tspan></text>
<text transform="translate(674.8 279.6) scale(0.91 1)">50<tspan font-size="3.4" dy="-2.1">th</tspan></text>
<text transform="translate(674.8 288.3) scale(0.91 1)">10<tspan font-size="3.4" dy="-2.1">th</tspan></text>
<text transform="translate(674.8 295.85) scale(0.91 1)">3<tspan font-size="3.4" dy="-2.1">rd</tspan></text>
</g>
<path d="M189.8 693.9H486.3M189.8 684.14H486.3M189.8 674.37H486.3M189.8 664.61H486.3M189.8 654.85H486.3M189.8 645.08H486.3M189.8 635.32H486.3M189.8 625.56H486.3M189.8 615.79H486.3M189.8 606.03H486.3M189.8 596.27H486.3M189.8 586.51H486.3M189.8 576.74H486.3M189.8 566.98H486.3M189.8 557.22H486.3M189.8 547.45H486.3M189.8 537.69H486.3M189.8 527.93H486.3M189.8 518.16H486.3M189.8 508.4H486.3" stroke="#dedede" stroke-width="0.7" fill="none"/>
<path d="M189.8 508.4V693.9" stroke="#dcdcdc" stroke-width="1" fill="none"/>
<g font-size="4.9" fill="#4a4a4a" stroke="#4a4a4a" stroke-width="0.12" text-anchor="end">
<text transform="translate(184.3 695.7) scale(0.88 1)">0</text>
<text transform="translate(184.3 685.94) scale(0.88 1)">200</text>
<text transform="translate(184.3 676.17) scale(0.88 1)">400</text>
<text transform="translate(184.3 666.41) scale(0.88 1)">600</text>
<text transform="translate(184.3 656.65) scale(0.88 1)">800</text>
<text transform="translate(184.3 646.88) scale(0.88 1)">1000</text>
<text transform="translate(184.3 637.12) scale(0.88 1)">1200</text>
<text transform="translate(184.3 627.36) scale(0.88 1)">1400</text>
<text transform="translate(184.3 617.59) scale(0.88 1)">1600</text>
<text transform="translate(184.3 607.83) scale(0.88 1)">1800</text>
<text transform="translate(184.3 598.07) scale(0.88 1)">2000</text>
<text transform="translate(184.3 588.31) scale(0.88 1)">2200</text>
<text transform="translate(184.3 578.54) scale(0.88 1)">2400</text>
<text transform="translate(184.3 568.78) scale(0.88 1)">2600</text>
<text transform="translate(184.3 559.02) scale(0.88 1)">2800</text>
<text transform="translate(184.3 549.25) scale(0.88 1)">3000</text>
<text transform="translate(184.3 539.49) scale(0.88 1)">3200</text>
<text transform="translate(184.3 529.73) scale(0.88 1)">3400</text>
<text transform="translate(184.3 519.96) scale(0.88 1)">3600</text>
<text transform="translate(184.3 510.2) scale(0.88 1)">3800</text>
</g>
<g font-size="4.9" fill="#4a4a4a" stroke="#4a4a4a" stroke-width="0.12" text-anchor="middle">
<text transform="translate(189.6 702.2) scale(0.88 1)">16</text>
<text transform="translate(214.31 702.2) scale(0.88 1)">18</text>
<text transform="translate(239.02 702.2) scale(0.88 1)">20</text>
<text transform="translate(263.73 702.2) scale(0.88 1)">22</text>
<text transform="translate(288.43 702.2) scale(0.88 1)">24</text>
<text transform="translate(313.14 702.2) scale(0.88 1)">26</text>
<text transform="translate(337.85 702.2) scale(0.88 1)">28</text>
<text transform="translate(362.56 702.2) scale(0.88 1)">30</text>
<text transform="translate(387.27 702.2) scale(0.88 1)">32</text>
<text transform="translate(411.98 702.2) scale(0.88 1)">34</text>
<text transform="translate(436.68 702.2) scale(0.88 1)">36</text>
<text transform="translate(461.39 702.2) scale(0.88 1)">38</text>
<text transform="translate(486.1 702.2) scale(0.88 1)">40</text>
</g>
<g font-size="7" fill="#383838" stroke="#383838" stroke-width="0.1" text-anchor="middle">
<text x="336.6" y="490.3">e: Fetal Growth Reference for</text>
<text x="336.6" y="499.7">Estimate Fetal Weight</text>
</g>
<text x="337.7" y="710.1" font-size="5" fill="#383838" stroke="#383838" stroke-width="0.1" text-anchor="middle">Gestational Age (weeks)</text>
<text transform="translate(171.2 601.8) rotate(-90)" font-size="5" fill="#383838" stroke="#383838" stroke-width="0.1" text-anchor="middle" textLength="57" lengthAdjust="spacingAndGlyphs">Estimated Fetal weight (g)</text>
<path d="M284.75 658.87h1M348.25 621.55h1M207.25 686.31h1M210.75 685.49h1M314.75 645.64h1M374.75 616.62h1M360.75 649.21h1M443.75 548.84h1M231.75 679.98h1M242.25 676.86h1M378.25 617.99h1M207.25 684.95h1M390.75 610.28h1M323.75 640.21h1M424.25 584.87h1M344.75 634.47h1M406.75 599.99h1M313.25 636.79h1M235.25 680.31h1M415.25 587.83h1M448.75 573.87h1M360.75 611.76h1M438.25 560.21h1M207.25 686.44h1M381.75 593.6h1M304.25 652.17h1M196.75 687.73h1M207.25 685.83h1M228.25 681.78h1M214.25 683.67h1M351.75 618.09h1M272.25 669.43h1M295.25 650.47h1M242.25 680.41h1M258.25 674.73h1M191.25 687.23h1M298.75 661.88h1M343.25 636.86h1M390.75 585.54h1M448.75 557.01h1M306.25 652.23h1M207.25 685.68h1M251.25 673.91h1M189.75 686.58h1M219.75 683.98h1M371.25 613.87h1M263.75 671.19h1M441.75 561.19h1M327.25 641.98h1M291.75 657.79h1M434.75 574.06h1M346.75 628.27h1M350.25 620.08h1M445.25 565.88h1M267.25 669.53h1M346.75 626.73h1M286.75 659.38h1M441.75 548.57h1M431.25 578.23h1M295.25 660.45h1M198.25 687.14h1M473.75 538.36h1M466.75 519.29h1M254.75 673.83h1M247.75 675.3h1M438.25 556.87h1M383.75 606.58h1M459.75 564.24h1M411.75 596.64h1M288.25 659.3h1M477.25 558.79h1M404.75 588.65h1M226.75 680.48h1M233.75 677.79h1M480.75 552.24h1M228.25 683.81h1M477.25 557.58h1M318.25 648.86h1M434.75 573.22h1M260.25 669.99h1M267.25 669.66h1M293.75 656.19h1M362.75 614.23h1M337.75 637.42h1M344.75 624.4h1M191.25 687.23h1M240.75 680.7h1M286.75 659.5h1M353.75 624.72h1M263.75 671.02h1M418.75 599.59h1M459.75 559.65h1M371.25 624.15h1M323.75 642.08h1M330.75 631.19h1M468.25 560.95h1M355.25 613.1h1M224.75 683.55h1M210.75 685.44h1M422.75 578.93h1M235.25 680.35h1M450.75 583.45h1M254.75 671.73h1M482.75 547.72h1M237.25 680.94h1M247.75 675.12h1M403.25 583.42h1M194.75 687.05h1M374.75 615.91h1M422.75 583.53h1M221.25 683.5h1M268.75 667.44h1M314.75 640.38h1M233.75 681.73h1M358.75 623.36h1M394.25 604.97h1M210.75 683.92h1M214.25 685.52h1M208.75 684.95h1M353.75 630.58h1M268.75 666.22h1M221.25 682.33h1M203.75 686.15h1M415.25 579.36h1M337.75 630.33h1M263.75 666.84h1M406.75 599.53h1M466.75 556.96h1M433.25 588.91h1M306.25 649.18h1M394.25 592.98h1M399.75 598.77h1M309.75 649.85h1M210.75 685.15h1M265.25 669.02h1M447.25 562.59h1M272.25 666.51h1M235.25 678.68h1M267.25 663.1h1M261.75 672.12h1M281.25 662.79h1M330.75 637.98h1M249.75 675.45h1M216.25 684.5h1M201.75 685.72h1M362.75 619.34h1M411.75 599.2h1M304.25 656.48h1M480.75 530.51h1M201.75 685.22h1M454.25 577.45h1M230.25 682.9h1M339.75 628.32h1M362.75 630.87h1M392.75 606.45h1M228.25 682.72h1M221.25 682.63h1M374.75 621.61h1M334.25 627.29h1M337.75 634.14h1M385.25 594.1h1M212.25 684.44h1M406.75 588.91h1M336.25 627.07h1M330.75 641.47h1M380.25 622.47h1M233.75 680.38h1M357.25 603.02h1M207.25 686.2h1M390.75 590.3h1M343.25 637.37h1M454.25 559.24h1M478.75 543.42h1M433.25 577.26h1M323.75 642.25h1M251.25 673.56h1M231.75 684.32h1M433.25 580.77h1M452.75 566.24h1M334.25 642.87h1M191.25 688.52h1M231.75 680.8h1M283.25 661.74h1M438.25 573.72h1M464.75 562.33h1M300.75 660.55h1M485 553.88h1M270.75 668.36h1M219.75 683.27h1M263.75 671.51h1M341.25 630.46h1M452.75 551.73h1M376.75 595.82h1M403.25 618.26h1M406.75 609.23h1M274.25 664.57h1M464.75 544.51h1M277.75 662.26h1M478.75 547.36h1M355.25 615.24h1M238.75 678.31h1M337.75 631.31h1M457.75 545.47h1M246.25 676.51h1M290.25 656.82h1M358.75 619.84h1M411.75 599.32h1M300.75 651.83h1M207.25 686.52h1M339.75 619.44h1M445.25 566.36h1M307.75 647.33h1M471.75 518.57h1M198.25 688.79h1M454.25 595.37h1M306.25 650.1h1M434.75 555.87h1M221.25 686.16h1M344.75 636.03h1M381.75 626.72h1M325.25 642.31h1M258.25 672.37h1M380.25 611.19h1M378.25 607.04h1M223.25 681.58h1M304.25 650.08h1M367.75 611.11h1M473.75 548.56h1M450.75 574.2h1M473.75 547.73h1M281.25 659.73h1M314.75 645.96h1M387.25 595.09h1M290.25 659.56h1M392.75 597.03h1M339.75 624.19h1M477.25 557.28h1M254.75 670.36h1M277.75 661.51h1M256.75 673.41h1M387.25 600.95h1M253.25 674.36h1M231.75 680.41h1M456.25 559.65h1M406.75 570.45h1M244.25 677.19h1M410.25 576.49h1M300.75 652.63h1M238.75 677.63h1M473.75 549.16h1M475.25 544.74h1M433.25 565.74h1M203.75 687.52h1M246.25 676.2h1M456.25 547.69h1M417.25 582.82h1M200.25 684.52h1M411.75 581.42h1M290.25 659.63h1M267.25 663.34h1M283.25 661.86h1M461.25 556.63h1M468.25 542.9h1M473.75 547.76h1M304.25 651.91h1M464.75 540.72h1M427.75 581.51h1M369.75 629.77h1M284.75 664.18h1M247.75 673.73h1M263.75 669.58h1M286.75 659.95h1M450.75 554.69h1M217.75 684.28h1M399.75 604.34h1M373.25 612.15h1M411.75 581.58h1M438.25 587.78h1M357.25 630.76h1M263.75 667.67h1M235.25 678.46h1M307.75 653.31h1M339.75 632.1h1M482.75 516.16h1M330.75 634.27h1M201.75 688.6h1M224.75 681.35h1M464.75 520.78h1M447.25 576.53h1M470.25 548.26h1M366.25 621.76h1M231.75 681.55h1M265.25 671.93h1M193.25 688.2h1M390.75 600.36h1M426.25 572h1M208.75 684.84h1M378.25 606.21h1M237.25 679.83h1M281.25 665.19h1M281.25 664.92h1M445.25 573.29h1M297.25 653.64h1M191.25 685.74h1M314.75 644.86h1M325.25 645.25h1M193.25 688.74h1M216.25 685.06h1M298.75 656.39h1M344.75 630.54h1M221.25 685.77h1M247.75 675.78h1M468.25 522.66h1M464.75 557.89h1M457.75 578.38h1M422.75 597.34h1M309.75 645.16h1M254.75 676.32h1M343.25 633.41h1M404.75 591.34h1M201.75 688.4h1M438.25 580.89h1M367.75 626.91h1M314.75 648.31h1M316.75 647.95h1M196.75 688.09h1M334.25 635.46h1M325.25 633.48h1M330.75 636.18h1M216.25 684.1h1M341.25 624.92h1M406.75 589.85h1M341.25 626.33h1M471.75 545.04h1M443.75 549.23h1M247.75 676.03h1M336.25 624.16h1M422.75 589.83h1M208.75 686.94h1M456.25 543.11h1M431.25 569.19h1M251.25 673.13h1M339.75 633.85h1M237.25 678.94h1M390.75 599.14h1M223.25 683.5h1M378.25 621.33h1M360.75 610.77h1M221.25 681.67h1M426.25 581.66h1M482.75 555.81h1M320.25 645.61h1M410.25 573.26h1M378.25 606.56h1M362.75 626h1M200.25 687.63h1M371.25 623.36h1M228.25 681.13h1M383.75 607.07h1M221.25 683.45h1M256.75 674.92h1M374.75 618.28h1M230.25 680.32h1M217.75 684.56h1M447.25 564.57h1M193.25 688.35h1M355.25 629.89h1M466.75 537.79h1M263.75 669.57h1M309.75 649.77h1M207.25 685.96h1M468.25 555.27h1M249.75 676.87h1M431.25 586.38h1M281.25 662.96h1M422.75 579.91h1M191.25 686.38h1M410.25 605.15h1M256.75 671.68h1M288.25 658.29h1M396.25 591.81h1M353.75 633.5h1M422.75 591.79h1M475.25 550.01h1M450.75 554.81h1M410.25 590.46h1M410.25 600.94h1M260.25 667.86h1M376.75 615.99h1M328.75 645.73h1M396.25 593.82h1M358.75 628h1M253.25 674.56h1M231.75 681.63h1M221.25 682.41h1M198.25 687.42h1M394.25 610.57h1M208.75 687.12h1M297.25 652.89h1M208.75 687.74h1M461.25 551.69h1M223.25 683.23h1M440.25 565.2h1M376.75 622.25h1M219.75 682.06h1M284.75 658.53h1M196.75 687.13h1M298.75 651.95h1M475.25 576.76h1M198.25 687.03h1M318.25 644.23h1M348.25 633.85h1M445.25 548.88h1M189.75 686.34h1M415.25 587.06h1M336.25 635.23h1M244.25 678.62h1M267.25 668.6h1M274.25 664.96h1M221.25 681.53h1M214.25 684.43h1M374.75 624.75h1M307.75 656.15h1M452.75 531.33h1M251.25 675.06h1M302.75 645.34h1M258.25 674.47h1M413.75 585.87h1M293.75 657.79h1M385.25 602.4h1M238.75 681.28h1M226.75 681.31h1M452.75 562.85h1M397.75 593.01h1M235.25 679.28h1M344.75 626.91h1M286.75 657.44h1M219.75 680.61h1M219.75 686.5h1M406.75 574.48h1M247.75 676.48h1M304.25 654.27h1M307.75 648.73h1M376.75 623.63h1M231.75 682.02h1M459.75 567.19h1M358.75 622.52h1M403.25 605.75h1M418.75 592.28h1M380.25 624.91h1M283.25 662.65h1M420.75 588.07h1M376.75 611.89h1M373.25 605.94h1M388.75 599.61h1M420.75 587.45h1M334.25 634.87h1M237.25 679.38h1M468.25 559.55h1M350.25 627.68h1M341.25 638.95h1M311.25 653.84h1M251.25 675.45h1M226.75 683.41h1M295.25 653.95h1M193.25 686.99h1M314.75 647.77h1M256.75 674.41h1M468.25 562.86h1M306.25 651.32h1M228.25 681.39h1M328.75 647.66h1M256.75 671.05h1M433.25 578.86h1M328.75 640.86h1M436.75 559.55h1M441.75 572.12h1M316.75 641.64h1M189.75 687.55h1M279.75 665.39h1M316.75 649.43h1M464.75 570.92h1M207.25 684.82h1M231.75 683.58h1M376.75 610.69h1M383.75 607.55h1M219.75 683.22h1M291.75 656.24h1M457.75 558.04h1M369.75 620.38h1M387.25 593.64h1M247.75 677.79h1M346.75 629.64h1M353.75 632.06h1M258.25 670.77h1M327.25 635.9h1M336.25 641.55h1M191.25 687.35h1M328.75 645.65h1M300.75 655.49h1M473.75 531.05h1M198.25 686.27h1M392.75 594.86h1M341.25 634.43h1M456.25 540.42h1M290.25 657.65h1M298.75 658.47h1M251.25 674.41h1M314.75 653.58h1M434.75 582.81h1M339.75 634.1h1M383.75 597.82h1M288.25 660.51h1M378.25 604.83h1M201.75 687.06h1M203.75 688.76h1M191.25 686.48h1M385.25 589.01h1M459.75 573.15h1M396.25 608.22h1M390.75 600.33h1M415.25 572.88h1M242.25 675.13h1M383.75 604.34h1M433.25 572.95h1M279.75 666.53h1M284.75 664.63h1M205.25 685.57h1M201.75 685.17h1M461.25 540.88h1M193.25 688.38h1M480.75 531.64h1M311.25 644.01h1M233.75 677.97h1M191.25 687.58h1M216.25 685.07h1M228.25 679.64h1M406.75 591.66h1M203.75 686.18h1M406.75 608.94h1M376.75 614.11h1M265.25 671.71h1M401.25 595.24h1M431.25 577.56h1M281.25 662.91h1M334.25 639.25h1M298.75 657.67h1M231.75 681.56h1M297.25 658.04h1M304.25 655.74h1M470.25 547.76h1M207.25 687.45h1M397.75 595.16h1M478.75 557.71h1M367.75 619.99h1M300.75 650.34h1M367.75 606.79h1M189.75 688.56h1M314.75 652.82h1M201.75 687.73h1M429.75 568.6h1M441.75 582.72h1M392.75 595.07h1M353.75 628.33h1M249.75 675.27h1M369.75 633.18h1M327.25 639.08h1M424.25 574.02h1M216.25 683.76h1M360.75 632.19h1M452.75 578.26h1M246.25 676.72h1M242.25 678.23h1M309.75 652.5h1M233.75 675.59h1M221.25 682.26h1M422.75 574.94h1M343.25 619.44h1M200.25 684.6h1M357.25 624.13h1M420.75 608.07h1M433.25 563.62h1M265.25 668.12h1M214.25 684.68h1M355.25 619.66h1M459.75 579.52h1M366.25 621h1M265.25 668.84h1M380.25 598.13h1M321.75 644.69h1M475.25 528.8h1M265.25 669.55h1M457.75 520.02h1M422.75 595.08h1M381.75 606.1h1M413.75 589.31h1M390.75 606.96h1M221.25 681.84h1M265.25 667.78h1M260.25 669.86h1M390.75 589.4h1M200.25 686.67h1M254.75 670.14h1M230.25 682.4h1M217.75 682.05h1M323.75 645.57h1M433.25 592.77h1M254.75 673.13h1M401.25 601.92h1M268.75 668.46h1M235.25 680.27h1M238.75 675.99h1M283.25 660.75h1M207.25 686.32h1M387.25 603.17h1M265.25 667.17h1M297.25 644.13h1M217.75 684.45h1M456.25 541.08h1M478.75 530.01h1M429.75 585.18h1M436.75 568.55h1M244.25 680.39h1M358.75 616.73h1M242.25 677.45h1M212.25 687.09h1M369.75 621.97h1M371.25 614.99h1M429.75 585.4h1M406.75 596.75h1M403.25 579.03h1M438.25 565.58h1M336.25 623.94h1M447.25 564.45h1M244.25 676.37h1M298.75 657.27h1M191.25 688.51h1M224.75 682.84h1M431.25 570.91h1M302.75 654.87h1M207.25 684h1M341.25 642.07h1M348.25 613.22h1M244.25 676.58h1M263.75 669.86h1M396.25 602.07h1M194.75 688.36h1M397.75 606.2h1M447.25 567.95h1M336.25 636.69h1M272.25 664.93h1M364.25 614.34h1M233.75 682.46h1M434.75 584.1h1M304.25 657.71h1M306.25 647.64h1M420.75 588.77h1M318.25 642.18h1M427.75 562.13h1M205.25 687.35h1M473.75 539.33h1M376.75 614.29h1M346.75 623.74h1M194.75 686.73h1M477.25 541.26h1M429.75 605.38h1M452.75 545.17h1M390.75 600.68h1M350.25 619.9h1M343.25 634.83h1M471.75 553.58h1M224.75 681.57h1M473.75 560.76h1M348.25 628.88h1M226.75 681.42h1M274.25 664.32h1M216.25 686.75h1M358.75 626.1h1M249.75 675.75h1M371.25 623.25h1M281.25 662.62h1M302.75 650.23h1M193.25 688.57h1M355.25 614.4h1M274.25 663.8h1M237.25 679.41h1M447.25 571.39h1M320.25 643.18h1M221.25 682.96h1M235.25 676.24h1M293.75 658.87h1M433.25 590.91h1M408.25 593.2h1M422.75 601.83h1M461.25 521.21h1M417.25 571.3h1M337.75 627.72h1M422.75 586.55h1M369.75 621.95h1M403.25 588.34h1M306.25 654.19h1M422.75 586.92h1M337.75 637.46h1M231.75 680.57h1M362.75 606.99h1M440.25 557.35h1M473.75 545.05h1M193.25 686.21h1M357.25 637.95h1M348.25 628.26h1M343.25 639.7h1M295.25 656.77h1M293.75 652.67h1M219.75 684.4h1M307.75 654.53h1M475.25 555.5h1M320.25 653.74h1M346.75 642.93h1M240.75 680.03h1M341.25 618.7h1M454.25 571.51h1M452.75 586.06h1M235.25 680.33h1M246.25 674.55h1M376.75 617.77h1M378.25 619.55h1M311.25 647.62h1M191.25 688.25h1M438.25 588.52h1M337.75 638.33h1M268.75 669.68h1M360.75 627.94h1M224.75 681.43h1M219.75 682.02h1M344.75 626.99h1M207.25 688.7h1M417.25 594.21h1M238.75 676.7h1M219.75 682.42h1M323.75 645.21h1M205.25 685.1h1M320.25 647.29h1M263.75 665.52h1M283.25 660.16h1M431.25 582.93h1M336.25 628.58h1M261.75 673.3h1M281.25 660.1h1M332.75 636.09h1M295.25 658.48h1M477.25 551.76h1M348.25 621.17h1M309.75 647.39h1M293.75 656.35h1M246.25 676.72h1M387.25 599.35h1M235.25 680.07h1M436.75 579.19h1M320.25 639.78h1M293.75 661.66h1M300.75 651.42h1M339.75 634.18h1M323.75 637.18h1M456.25 545.86h1M298.75 654.48h1M448.75 548.61h1M341.25 636.56h1M304.25 652.62h1M357.25 625.75h1M242.25 676.32h1M284.75 661.82h1M297.25 656.6h1M277.75 662.31h1M226.75 681.71h1M272.25 670.71h1M450.75 548.65h1M228.25 681.86h1M385.25 604.71h1M311.25 651.55h1M440.25 587.76h1M376.75 610.26h1M406.75 588.96h1M201.75 686.02h1M279.75 663h1M201.75 687.26h1M438.25 557.09h1M401.25 597.18h1M293.75 650.84h1M436.75 571h1M441.75 580.81h1M203.75 686.42h1M251.25 673.9h1M411.75 576.71h1M411.75 582.11h1M272.25 661.94h1M464.75 537.46h1M408.25 585.69h1M205.25 687.66h1M316.75 654.84h1M415.25 591.45h1M397.75 596.58h1M477.25 557.73h1M350.25 627.35h1M311.25 647.05h1M281.25 660.08h1M260.25 669.11h1M343.25 643.55h1M277.75 662.31h1M231.75 682.05h1M351.75 628.63h1M238.75 679.89h1M417.25 599.21h1M223.25 683.32h1M207.25 684.94h1M247.75 676.51h1M286.75 663.1h1M297.25 654.16h1M484.25 537.17h1M214.25 685.57h1M221.25 686.97h1M318.25 641.15h1M461.25 541.91h1M374.75 602.7h1M261.75 672h1M198.25 686.66h1M244.25 680.18h1M440.25 565.13h1M436.75 577.34h1M286.75 658.17h1M298.75 649.05h1M298.75 653.41h1M357.25 627.54h1M433.25 583.43h1M336.25 645.87h1M235.25 680.49h1M394.25 589.85h1M320.25 640.31h1M320.25 644.08h1M403.25 577.07h1M422.75 582.84h1M274.25 667.24h1M290.25 661.57h1M387.25 596.98h1M277.75 668.96h1M357.25 625.82h1M284.75 659.7h1M477.25 522.3h1M475.25 564.17h1M429.75 562.59h1M277.75 662.89h1M471.75 571.27h1M291.75 657.4h1M198.25 686.37h1M214.25 683.19h1M298.75 657.51h1M357.25 626.62h1M223.25 681.86h1M223.25 680.54h1M265.25 667.35h1M334.25 632.79h1M256.75 673.58h1M364.25 620.8h1M311.25 644.73h1M351.75 623.57h1M413.75 565.07h1M219.75 681.25h1M306.25 646.61h1M418.75 561.77h1M418.75 578.39h1M194.75 686.94h1M253.25 674.91h1M452.75 543.97h1M448.75 592.6h1M238.75 680.17h1M290.25 658.24h1M226.75 684.2h1M408.25 563.62h1M367.75 620.95h1M351.75 625.52h1M388.75 608.64h1M246.25 679.44h1M223.25 681.47h1M223.25 682.76h1M276.25 666.36h1M302.75 648.35h1M394.25 586.67h1M470.25 538.75h1M337.75 633.92h1M426.25 573.98h1M390.75 602.15h1M330.75 633.09h1M448.75 545.39h1M212.25 685.62h1M364.25 611.14h1M240.75 679.36h1M304.25 648.91h1M191.25 688.2h1M325.25 643.03h1M203.75 685.42h1M270.75 664.58h1M267.25 671.05h1M484.25 557.02h1M355.25 622.81h1M376.75 627.78h1M297.25 656.42h1M468.25 528.44h1M279.75 663.03h1M378.25 624.06h1M353.75 627.19h1M284.75 660.61h1M332.75 639.54h1M293.75 655.3h1M191.25 686.56h1M358.75 627.73h1M238.75 677.69h1M404.75 591.33h1M466.75 571.11h1M212.25 682.96h1M362.75 613.72h1M316.75 645.86h1M208.75 688.26h1M265.25 668.65h1M238.75 679.13h1M307.75 644.53h1M367.75 610.35h1M406.75 604.24h1M367.75 605.65h1M290.25 656.1h1M246.25 679.74h1M463.25 562.93h1M286.75 660.25h1M390.75 616.17h1M207.25 686.3h1M288.25 659.1h1M366.25 618.78h1M463.25 541.08h1M482.75 523.82h1M286.75 658.92h1M235.25 678.34h1M431.25 562.2h1M348.25 634.84h1M367.75 622.1h1M410.25 592h1M418.75 568.86h1M418.75 574.09h1M344.75 631.33h1M228.25 680.26h1M418.75 585.1h1M482.75 539.82h1M198.25 685.16h1M207.25 687.46h1M468.25 553.29h1M233.75 679.29h1M237.25 677.12h1M420.75 583.07h1M378.25 588.29h1M426.25 590.62h1M221.25 683.19h1M208.75 686.5h1M207.25 686.92h1M311.25 640.41h1M256.75 674.95h1M267.25 670.09h1M415.25 584.95h1M277.75 662.54h1M235.25 679.93h1M447.25 569.46h1M272.25 662.82h1M334.25 633.95h1M366.25 620.79h1M360.75 617.9h1M297.25 656.76h1M445.25 558.11h1M277.75 655.78h1M223.25 682.84h1M233.75 680.35h1M217.75 683.28h1M290.25 654.8h1M401.25 559.57h1M258.25 675.79h1M394.25 590.79h1M316.75 644.42h1M194.75 686.28h1M224.75 682.73h1M230.25 682.06h1M233.75 679.93h1M337.75 630.62h1M461.25 549.52h1M253.25 670.4h1M270.75 668.17h1M267.25 668.09h1M311.25 647.91h1M297.25 650.48h1M350.25 626.74h1M394.25 582.89h1M307.75 650.96h1M313.25 643.57h1M311.25 649.01h1M485 521.03h1M265.25 669.38h1M300.75 653.48h1M440.25 563.66h1M459.75 538.94h1M381.75 605h1M283.25 661.71h1M441.75 570.9h1M366.25 612.9h1M410.25 591.46h1M401.25 606.03h1M390.75 596.7h1M376.75 617.3h1M268.75 668.47h1M330.75 639.19h1M254.75 675.68h1M464.75 572.09h1M431.25 580.24h1M240.75 677.49h1M434.75 587.27h1M447.25 555.15h1M431.25 574.64h1M235.25 679.9h1M427.75 574.68h1M323.75 638.12h1M396.25 595.15h1M330.75 635.73h1M390.75 617.6h1M343.25 630.87h1M302.75 646.43h1M249.75 675.81h1M403.25 597.06h1M284.75 660.88h1M378.25 595.84h1M249.75 677.97h1M298.75 651.92h1M320.25 648.23h1M311.25 643.95h1M429.75 585.49h1M463.25 545.57h1M477.25 550.36h1M286.75 662.82h1M413.75 598.23h1M456.25 549.97h1M196.75 688.11h1M438.25 580.54h1M330.75 634.15h1M341.25 636.12h1M388.75 605.62h1M390.75 612.32h1M417.25 586.09h1M212.25 685.82h1M219.75 682h1M205.25 685.26h1M399.75 600.97h1M313.25 647.22h1M485 529.22h1M288.25 664.75h1M191.25 686.51h1M283.25 661.97h1M443.75 583.51h1M205.25 686.73h1M447.25 559.12h1M249.75 678.48h1M348.25 633.09h1M362.75 614.69h1M427.75 572.13h1M205.25 683.83h1M348.25 634.86h1M270.75 665.67h1M276.25 665.96h1M323.75 649.61h1M321.75 641.88h1M378.25 614.62h1M445.25 553.24h1M463.25 548.34h1M427.75 597.01h1M277.75 664.21h1M438.25 556.63h1M219.75 681.55h1M422.75 572.34h1M265.25 670.13h1M392.75 600.44h1M201.75 686.35h1M276.25 664.56h1M355.25 616.16h1M459.75 570.53h1M426.25 561.64h1M306.25 647.49h1M256.75 672.38h1M217.75 686.16h1M390.75 600.23h1M434.75 556.06h1M468.25 530.88h1M276.25 667.21h1M464.75 536.55h1M332.75 632.7h1M216.25 685.75h1M270.75 663.85h1M463.25 587.97h1M367.75 610.72h1M383.75 610.64h1M288.25 661.56h1M242.25 677.4h1M277.75 661.41h1M353.75 621.98h1M366.25 619.93h1M217.75 684.13h1M228.25 682.92h1M385.25 610.47h1M240.75 676.95h1M448.75 570.3h1M233.75 677.87h1M336.25 629.28h1M224.75 683.44h1M339.75 632.59h1M247.75 676.89h1M260.25 670.68h1M337.75 633.63h1M334.25 636.81h1M358.75 624.26h1M235.25 680.87h1M198.25 688.02h1M454.25 552.59h1M360.75 620.41h1M399.75 585.18h1M261.75 675.47h1M373.25 626.73h1M431.25 589.29h1M463.25 516.44h1M468.25 565.36h1M261.75 669.78h1M390.75 598.67h1M247.75 674.71h1M288.25 649.98h1M332.75 639.62h1M420.75 569.28h1M247.75 677.49h1M440.25 570.57h1M293.75 658.27h1M475.25 559.59h1M434.75 592.77h1M457.75 560.95h1M364.25 632.49h1M434.75 570.26h1M473.75 577.94h1M470.25 523.78h1M263.75 666.49h1M258.25 671.52h1M336.25 629.78h1M392.75 604.36h1M424.25 593.02h1M468.25 546.48h1M383.75 615.25h1M290.25 663.16h1M191.25 688.5h1M194.75 685.7h1M369.75 607.39h1M288.25 658.95h1M373.25 607.01h1M216.25 684.75h1M385.25 593.72h1M224.75 682.82h1M244.25 677.56h1M473.75 556.05h1M371.25 611.09h1M306.25 659.77h1M482.75 543.19h1M436.75 559.47h1M240.75 676.63h1M323.75 640.67h1M219.75 684.68h1M445.25 580.68h1M454.25 563.61h1M212.25 686.14h1M297.25 657.71h1M376.75 618.71h1M457.75 548.67h1M297.25 654.23h1M392.75 602.62h1M321.75 642.89h1M411.75 631.35h1M286.75 655.79h1M231.75 678.23h1M360.75 614.89h1M380.25 607.44h1M415.25 591.4h1M478.75 528.08h1M427.75 584.94h1M399.75 606.09h1M272.25 665.03h1M424.25 569.85h1M231.75 683.75h1M408.25 594.54h1M281.25 660.68h1M475.25 544.32h1M244.25 678.54h1M284.75 655.14h1M221.25 683.55h1M475.25 533.81h1M249.75 673.7h1M378.25 615.73h1M283.25 659.26h1M355.25 615.77h1M411.75 591.81h1M346.75 623.9h1M376.75 613.46h1M434.75 555.06h1M293.75 654.77h1M210.75 685.81h1M413.75 593.68h1M223.25 684.22h1M380.25 598.5h1M418.75 588.9h1M468.25 553.7h1M427.75 590.38h1M244.25 675.75h1M387.25 613.18h1M228.25 682.07h1M337.75 632.7h1M387.25 613.25h1M270.75 668.3h1M422.75 579.89h1M413.75 594.05h1M456.25 543.48h1M381.75 616.93h1M228.25 682.4h1M270.75 670.58h1M367.75 614.63h1M256.75 674.09h1M390.75 587.7h1M397.75 601.7h1M438.25 573.57h1M230.25 681.18h1M207.25 687.38h1M201.75 686.19h1M223.25 682.72h1M288.25 655.63h1M254.75 673.16h1M429.75 586.27h1M198.25 686.94h1M314.75 647.52h1M376.75 613.56h1M341.25 639.52h1M256.75 668.59h1M475.25 583.85h1M482.75 527.84h1M323.75 639.71h1M399.75 606.1h1M309.75 648.18h1M247.75 676.14h1M247.75 677.98h1M247.75 676.17h1M477.25 528.27h1M470.25 531.76h1M208.75 686.68h1M193.25 686.17h1M267.25 671.26h1M237.25 682.42h1M201.75 689.2h1M295.25 651.78h1M219.75 685.14h1M235.25 679.61h1M459.75 573.89h1M330.75 637.05h1M357.25 626.41h1M251.25 674.75h1M399.75 595.86h1M480.75 566.92h1M429.75 571.44h1M228.25 680.86h1M302.75 652.27h1M434.75 569.76h1M452.75 577.74h1M210.75 686.21h1M332.75 630.89h1M251.25 674.59h1M219.75 681.05h1M226.75 681.72h1M378.25 602.59h1M320.25 637.54h1M328.75 636.12h1M388.75 606.07h1M394.25 607.77h1M231.75 679.27h1M260.25 672.86h1M256.75 675.33h1M376.75 603.17h1M200.25 684.3h1M200.25 685.13h1M260.25 670.18h1M464.75 559.57h1M461.25 559.02h1M413.75 583h1M477.25 549.35h1M237.25 680.24h1M221.25 682.85h1M189.75 689.55h1M353.75 622.16h1M366.25 625.71h1M212.25 683.81h1M307.75 647.26h1M410.25 572.31h1M325.25 639.82h1M381.75 606.56h1M478.75 530.91h1M293.75 652.91h1M441.75 559.67h1M298.75 656.36h1M369.75 604.2h1M417.25 582.55h1M394.25 601.08h1M343.25 636.76h1M381.75 606.56h1M406.75 587.11h1M401.25 635.24h1M390.75 597.88h1M242.25 679.13h1M320.25 644.61h1M293.75 659.2h1M217.75 687.47h1M466.75 540.25h1M438.25 552.89h1M263.75 670.19h1M196.75 686.82h1M286.75 654.52h1M418.75 571.06h1M221.25 684.92h1M283.25 663.58h1M475.25 558.32h1M346.75 633.56h1M309.75 652.87h1M394.25 597.39h1M274.25 665.96h1M193.25 687.4h1M242.25 675.28h1M392.75 607.57h1M263.75 673.22h1M198.25 687.25h1M475.25 557.65h1M364.25 624.53h1M279.75 666.2h1M208.75 684.68h1M223.25 682.9h1M477.25 551.48h1M242.25 678.94h1M279.75 666.61h1M404.75 586.58h1M466.75 581.69h1M434.75 556.66h1M443.75 563.41h1M193.25 688.8h1M457.75 549.39h1M385.25 596.35h1M231.75 677.59h1M383.75 594.02h1M256.75 672.46h1M228.25 681.71h1M297.25 655.6h1M263.75 671.17h1M344.75 627.18h1M274.25 664.62h1M415.25 586.91h1M304.25 649.64h1M380.25 640.48h1M385.25 603.74h1M258.25 670.18h1M325.25 640.21h1M217.75 683.16h1M258.25 670.72h1M224.75 681.53h1M466.75 548.61h1M210.75 685.14h1M447.25 546.47h1M443.75 546.41h1M260.25 668.44h1M445.25 567.26h1M463.25 550.87h1M406.75 583.7h1M249.75 674.42h1M297.25 648.65h1M242.25 671.88h1M383.75 609.52h1M408.25 592.69h1M258.25 674.79h1M231.75 680.86h1M470.25 553.43h1M457.75 586.6h1M256.75 676.05h1M253.25 676.27h1M320.25 641.98h1M362.75 616.7h1M309.75 649.39h1M258.25 672.47h1M341.25 626.4h1M373.25 616.82h1M436.75 560.01h1M256.75 665.71h1M284.75 663.2h1M196.75 686.54h1M237.25 679.3h1M265.25 669.51h1M355.25 625.32h1M224.75 683.36h1M233.75 679.18h1M452.75 540.56h1M258.25 670.94h1M311.25 644.01h1M385.25 593.2h1M468.25 580.33h1M205.25 685.39h1M276.25 665.48h1M475.25 537.92h1M441.75 580.18h1M383.75 611.81h1M385.25 607.09h1M427.75 556.53h1M212.25 687.04h1M358.75 618.26h1M260.25 668.7h1M344.75 631.42h1M374.75 615.81h1M388.75 604.25h1M390.75 604.56h1M381.75 600.07h1M258.25 667.84h1M473.75 545.42h1M456.25 547.98h1M408.25 601.89h1M226.75 680.65h1M253.25 674.09h1M309.75 648.14h1M212.25 687.7h1M295.25 659.91h1M318.25 640.71h1M390.75 594.36h1M298.75 649.23h1M380.25 613.02h1M397.75 593.05h1M279.75 663.72h1M433.25 594.82h1M364.25 627.36h1M194.75 688.91h1M210.75 686.25h1M240.75 678.29h1M268.75 668.24h1M482.75 535.93h1M477.25 546.12h1M288.25 661.99h1M330.75 638.74h1M205.25 685.68h1M374.75 610.75h1M267.25 667.77h1M336.25 643.17h1M464.75 559.63h1M394.25 602.32h1M401.25 594.68h1M217.75 682.01h1M246.25 677.25h1M258.25 675.52h1M385.25 610.99h1M362.75 621.65h1M378.25 610.63h1M348.25 623.94h1M198.25 687.11h1M378.25 616.57h1M371.25 611.02h1M385.25 610.07h1M235.25 679.52h1M401.25 580.67h1M424.25 585.8h1M205.25 685.34h1M216.25 683.1h1M466.75 548.99h1M327.25 639.28h1M344.75 627.75h1M401.25 613.1h1M210.75 685.84h1M332.75 637.19h1M283.25 657.9h1M401.25 595.71h1M464.75 568.72h1M373.25 607.3h1M272.25 665.06h1M480.75 538.03h1M373.25 616.14h1M210.75 685.46h1M214.25 686.95h1M217.75 683.81h1M417.25 587.54h1M221.25 682.78h1M436.75 571.01h1M240.75 678.09h1M226.75 683.59h1M477.25 538.55h1M454.25 555.63h1M328.75 633.07h1M327.25 641.73h1M406.75 588.96h1M221.25 682.86h1M290.25 658.59h1M482.75 531.75h1M443.75 572.81h1M290.25 657.01h1M313.25 643.99h1M193.25 689.21h1M369.75 601.35h1M441.75 588.78h1M268.75 669.46h1M302.75 650.17h1M256.75 671.13h1M452.75 570.74h1M261.75 667.7h1M404.75 603.24h1M431.25 578.04h1M438.25 555.43h1M350.25 633.11h1M440.25 552.36h1M450.75 545.2h1M390.75 587.41h1M203.75 685.47h1M290.25 661.27h1M420.75 579.33h1M263.75 671.11h1M286.75 655.37h1M210.75 685.13h1M410.25 587.61h1M427.75 567.97h1M281.25 666.38h1M456.25 582.05h1M281.25 660.36h1M364.25 625.78h1M343.25 637.03h1M387.25 604.64h1M297.25 660.52h1M226.75 679.61h1M200.25 687.8h1M316.75 647.89h1M344.75 626.18h1M254.75 676.4h1M427.75 575.42h1M318.25 636.38h1M399.75 592.09h1M286.75 661.02h1M244.25 678.95h1M231.75 681.36h1M485 566.75h1M459.75 567.85h1M415.25 581.28h1M251.25 677.07h1M337.75 625.32h1M341.25 639.34h1M355.25 618.94h1M314.75 642.2h1M267.25 669.03h1M328.75 634.39h1M191.25 688.27h1M260.25 668.81h1M343.25 627.88h1M249.75 673.19h1M403.25 595.7h1M270.75 670.76h1M463.25 525.12h1M216.25 683.54h1M426.25 583.69h1M378.25 614.96h1M288.25 659.32h1M237.25 680.42h1M373.25 615.47h1M214.25 684.19h1M283.25 663.5h1M320.25 643.81h1M334.25 630.93h1M364.25 621.97h1M238.75 676.75h1M309.75 646.57h1M314.75 650.21h1M235.25 678.1h1M358.75 609.66h1M295.25 656.02h1M463.25 568.42h1M353.75 621.5h1M406.75 588.15h1M441.75 572.97h1M364.25 622.1h1M351.75 631.5h1M244.25 674.55h1M196.75 685.56h1M332.75 641.75h1M293.75 656.9h1M464.75 565.59h1M304.25 654.91h1M422.75 583.92h1M297.25 652.27h1M350.25 628.22h1M237.25 677.99h1M196.75 686.96h1M233.75 679.85h1M207.25 686.16h1M459.75 536.84h1M353.75 622.97h1M318.25 645.62h1M411.75 583.87h1M448.75 575.99h1M366.25 616.15h1M226.75 682.28h1M399.75 600.97h1M242.25 678.33h1M388.75 596.54h1M318.25 645.52h1M265.25 668.86h1M399.75 572.38h1M242.25 676.93h1M207.25 685.12h1M390.75 594.1h1M360.75 619.81h1M450.75 574.29h1M468.25 560.67h1M461.25 564.83h1M302.75 653.33h1M191.25 686.76h1M191.25 689.13h1M313.25 649.81h1M311.25 652.68h1M473.75 531.34h1M300.75 655.58h1M457.75 553.95h1M482.75 568.79h1M283.25 661.72h1M237.25 680.47h1M334.25 638.04h1M464.75 524.4h1M233.75 680.19h1M364.25 628.38h1M466.75 533.37h1M270.75 665.21h1M447.25 586.29h1M406.75 587.72h1M217.75 686.19h1M383.75 607.15h1M298.75 647.81h1M316.75 650.24h1M429.75 578h1M307.75 654.14h1M328.75 633.49h1M390.75 584.47h1M482.75 567.11h1M378.25 614.33h1M263.75 669.86h1M216.25 684.79h1M454.25 548.09h1M403.25 593.31h1M291.75 656.2h1M431.25 580.75h1M244.25 678.59h1M464.75 555.46h1M422.75 583.25h1M457.75 530.5h1M477.25 544.25h1M443.75 586.95h1M219.75 681.83h1M410.25 600.7h1M327.25 634.81h1M237.25 682.73h1M353.75 628.49h1M328.75 637.63h1M268.75 669.92h1M364.25 612.72h1M452.75 585.87h1M231.75 678.24h1M475.25 562.1h1M198.25 686.07h1M226.75 682.58h1M470.25 532.13h1M297.25 651.04h1M445.25 574.07h1M297.25 657.42h1M261.75 671.88h1M208.75 684.31h1M339.75 632.81h1M438.25 582.06h1M484.25 562.28h1M401.25 593.85h1M477.25 546.94h1M358.75 615.66h1M364.25 618.88h1M193.25 687.09h1M219.75 683.03h1M268.75 666.14h1M475.25 560.31h1M396.25 584.19h1M223.25 682.01h1M268.75 666.81h1M471.75 539.79h1M484.25 557.96h1M404.75 604.65h1M295.25 654.35h1M237.25 679.98h1M364.25 617.99h1M360.75 625.1h1M311.25 649.01h1M314.75 646.78h1M413.75 588h1M217.75 681.89h1M304.25 654.91h1M388.75 591.9h1M323.75 651.92h1M242.25 677.84h1M214.25 685.13h1M314.75 645.1h1M341.25 628.65h1M279.75 664.11h1M459.75 562.71h1M203.75 687.59h1M440.25 576.07h1M207.25 686.53h1M288.25 655.84h1M341.25 627.03h1M387.25 617.08h1M457.75 544.88h1M254.75 674.47h1M392.75 598.61h1M288.25 659.97h1M307.75 644.77h1M316.75 644.69h1M482.75 538.51h1M219.75 685.25h1M388.75 604.76h1M429.75 585.67h1M330.75 627.33h1M332.75 631.84h1M360.75 613.98h1M203.75 686.88h1M284.75 665.86h1M362.75 621.24h1M298.75 657.52h1M272.25 661.99h1M216.25 684.68h1M445.25 573.27h1M401.25 601.08h1M302.75 652.77h1M293.75 657.2h1M484.25 556.01h1M445.25 543.44h1M477.25 569.02h1M247.75 679.17h1M332.75 639.56h1M364.25 613.52h1M272.25 669.3h1M387.25 605.72h1M346.75 630.93h1M420.75 566.07h1M263.75 667.89h1M276.25 666.2h1M399.75 593.29h1M253.25 675.91h1M295.25 657.27h1M406.75 584.64h1M258.25 671.6h1M378.25 622.38h1M270.75 663.5h1M475.25 543.21h1M388.75 589.26h1M290.25 659.71h1M426.25 582.01h1M268.75 670.57h1M401.25 582.2h1M320.25 648.77h1M283.25 660.16h1M272.25 666.84h1M441.75 582.62h1M316.75 638.65h1M418.75 589.62h1M320.25 642.22h1M366.25 618.16h1M302.75 651.32h1M298.75 654.38h1M374.75 620.06h1M194.75 687.89h1M249.75 677.38h1M459.75 556.93h1M284.75 657.59h1M286.75 662.54h1M226.75 683.61h1M281.25 664.82h1M223.25 682.4h1M260.25 670.53h1M300.75 657.29h1M426.25 577.64h1M330.75 641.69h1M205.25 686.86h1M420.75 579.16h1M351.75 634.82h1M267.25 666.17h1M320.25 641.89h1M253.25 674.1h1M217.75 683.2h1M339.75 630.46h1M397.75 625.27h1M341.25 633.96h1M298.75 653.16h1M295.25 657.88h1M371.25 620.82h1M471.75 555.26h1M223.25 683.9h1M286.75 663.06h1M290.25 664.91h1M309.75 644.52h1M385.25 611.45h1M258.25 673.98h1M325.25 638.95h1M198.25 687.91h1M473.75 558.32h1M328.75 645.65h1M240.75 679.7h1M380.25 619.68h1M371.25 610.93h1M353.75 618.78h1M332.75 639.04h1M390.75 606.57h1M373.25 612.11h1M320.25 649.15h1M357.25 623.23h1M477.25 560.96h1M383.75 590.52h1M466.75 542.14h1M404.75 596.77h1M434.75 552.61h1M194.75 686.32h1M394.25 607.44h1M445.25 560.66h1M196.75 684.87h1M208.75 684.32h1M237.25 678.4h1M272.25 662.26h1M482.75 558.96h1M426.25 585.93h1M406.75 571.18h1M216.25 683.11h1M445.25 575.73h1M396.25 615.74h1M247.75 675.3h1M272.25 666.74h1M396.25 617.34h1M256.75 671.81h1M341.25 619.19h1M196.75 687.05h1M295.25 661.36h1M291.75 658.4h1M344.75 638.69h1M461.25 573.79h1M247.75 675.61h1M293.75 656.46h1M378.25 614.28h1M300.75 655.65h1M189.75 687.75h1M265.25 668.19h1M374.75 621.69h1M420.75 590.18h1M390.75 586.4h1M318.25 649.51h1M219.75 686.55h1M341.25 630.12h1M304.25 649.91h1M244.25 678.05h1M348.25 630.27h1M339.75 632.72h1M247.75 676.23h1M417.25 598.73h1M420.75 590.27h1M404.75 592.95h1M298.75 650.41h1M208.75 686.89h1M353.75 632.87h1M219.75 682.44h1M263.75 673.57h1M263.75 668.04h1M277.75 662.78h1M298.75 653.34h1M256.75 678.29h1M286.75 656.92h1M484.25 527.58h1M200.25 686.76h1M306.25 654.55h1M210.75 684.14h1M318.25 646.37h1M436.75 581.53h1M454.25 561.25h1M385.25 615.51h1M261.75 671.67h1M445.25 557.9h1M478.75 533.03h1M374.75 623.18h1M228.25 683.73h1M401.25 597.76h1M383.75 613.27h1M196.75 687.99h1M290.25 657.7h1M388.75 608.15h1M351.75 615.97h1M223.25 683.07h1M196.75 687.5h1M298.75 653.2h1M313.25 643.84h1M344.75 635.03h1M318.25 634.5h1M477.25 556.22h1M306.25 646.28h1M272.25 666.09h1M448.75 563.77h1M320.25 643.46h1M343.25 635.75h1M468.25 544.77h1M313.25 650.63h1M321.75 639.79h1M399.75 601.87h1M463.25 547.42h1M194.75 686.64h1M226.75 682.41h1M254.75 673.44h1M216.25 683.99h1M433.25 563.05h1M263.75 669.85h1M410.25 571.8h1M470.25 567.84h1M219.75 682.86h1M396.25 612.53h1M336.25 639.45h1M318.25 645.86h1M270.75 664.32h1M214.25 684.43h1M223.25 684.46h1M339.75 634.22h1M454.25 575.03h1M480.75 509.26h1M265.25 673.44h1M371.25 607.75h1M429.75 540.44h1M212.25 684.74h1M373.25 617.58h1M327.25 640.5h1M221.25 684.03h1M381.75 609.81h1M473.75 553.33h1M314.75 650.9h1M381.75 599.87h1M358.75 626.72h1M475.25 549.26h1M484.25 570.45h1M410.25 587.05h1M468.25 538.57h1M422.75 602.86h1M281.25 665.83h1M440.25 555.66h1M240.75 677.12h1M290.25 655.51h1M235.25 680.11h1M286.75 662.15h1M279.75 663.9h1M318.25 640.66h1M193.25 686.02h1M473.75 560.09h1M265.25 668.53h1M362.75 619.68h1M261.75 672.06h1M482.75 504.55h1M226.75 682.02h1M429.75 580.62h1M351.75 625.14h1M268.75 669.22h1M246.25 677.03h1M376.75 621.84h1M463.25 549.63h1M464.75 572.04h1M219.75 684.78h1M380.25 598.76h1M466.75 551.44h1M415.25 599.27h1M221.25 685.16h1M392.75 613.3h1M226.75 681.15h1M471.75 538.14h1M321.75 641.32h1M477.25 566.99h1M212.25 685.44h1M311.25 648.17h1M311.25 644.51h1M260.25 674.19h1M336.25 641h1M284.75 658.77h1M484.25 534.63h1M217.75 683.13h1M314.75 643.42h1M438.25 589.14h1M362.75 613.42h1M373.25 613.38h1M350.25 632.32h1M219.75 682.76h1M426.25 585.52h1M447.25 570.81h1M413.75 568.5h1M270.75 665.93h1M434.75 568.34h1M302.75 654.2h1M415.25 595.05h1M464.75 563.78h1M459.75 632.28h1M325.25 646.75h1M404.75 581.28h1M378.25 613.17h1M397.75 597.59h1M448.75 567.5h1M424.25 566.45h1M260.25 670.89h1M256.75 673.4h1M286.75 663.48h1M471.75 544.28h1M343.25 644.75h1M291.75 657.31h1M418.75 592.09h1M194.75 687.38h1M237.25 677.59h1M307.75 658.08h1M286.75 662.11h1M228.25 682.5h1M224.75 680.73h1M339.75 627.07h1M253.25 671.44h1M429.75 578.61h1M434.75 574.88h1M417.25 584.57h1M480.75 565.51h1M436.75 564.94h1M392.75 605.86h1M357.25 624.14h1M230.25 680.24h1M452.75 562.52h1M224.75 680.63h1M417.25 588.43h1M418.75 581.21h1M431.25 574.73h1M450.75 559.65h1M210.75 685.46h1M214.25 685.4h1M385.25 600.67h1M198.25 687.78h1M261.75 670.09h1M346.75 638.22h1M226.75 683.02h1M408.25 586.96h1M286.75 661.35h1M332.75 627.43h1M463.25 542.46h1M445.25 573.6h1M265.25 667.51h1M235.25 678.85h1M482.75 557.9h1M454.25 560.97h1M226.75 683.62h1M385.25 617.27h1M343.25 632.71h1M459.75 544.48h1M464.75 590.97h1M463.25 551.55h1M448.75 630.06h1M440.25 552.35h1M300.75 652.52h1M328.75 642.09h1M247.75 675.12h1M478.75 568.74h1M300.75 657.34h1M470.25 542.2h1M297.25 654.37h1M362.75 618.54h1M480.75 556.48h1M240.75 677.5h1M364.25 626.38h1M283.25 662.56h1M321.75 637.44h1M205.25 686.45h1M291.75 656.66h1M420.75 606.88h1M348.25 630.18h1M387.25 606.05h1M302.75 647.13h1M208.75 686.83h1M383.75 607.26h1M200.25 686.48h1M374.75 614.62h1M244.25 675.41h1M431.25 595.34h1M429.75 573.4h1M383.75 616.06h1M478.75 534.14h1M346.75 631.04h1M258.25 672.86h1M193.25 689.32h1M403.25 588.98h1M258.25 672.65h1M293.75 659.42h1M358.75 614.8h1M482.75 619.45h1M448.75 550.34h1M417.25 584.27h1M251.25 674.28h1M334.25 648.02h1M418.75 581.2h1M267.25 666.3h1M415.25 595.48h1M387.25 612.57h1M348.25 636.25h1M281.25 665.1h1M217.75 685.37h1M240.75 676.2h1M224.75 682.66h1M263.75 671.23h1M268.75 664.22h1M411.75 606.4h1M355.25 624.98h1M193.25 684.68h1M284.75 660.24h1M196.75 686h1M281.25 657.23h1M253.25 673.71h1M298.75 653.1h1M360.75 618.43h1M279.75 667.66h1M291.75 658.74h1M424.25 593.96h1M230.25 681.88h1M369.75 602.34h1M200.25 685.35h1M260.25 675.05h1M337.75 636.53h1M246.25 677.68h1M246.25 677.71h1M201.75 686.75h1M346.75 626.46h1M426.25 568h1M226.75 681.11h1M417.25 611.03h1M307.75 648.58h1M291.75 651.85h1M351.75 629.2h1M224.75 681.34h1M367.75 627.4h1M473.75 529.12h1M283.25 659.05h1M311.25 648.37h1M304.25 652.92h1M328.75 637.71h1M196.75 687.94h1M212.25 684.09h1M478.75 563.17h1M473.75 529.76h1M369.75 605.2h1M463.25 573.63h1M270.75 665.08h1M463.25 556.97h1M484.25 537.91h1M251.25 672.49h1M362.75 608.47h1M311.25 648.09h1M207.25 686.03h1M221.25 681.12h1M201.75 687.28h1M336.25 638.03h1M427.75 579.63h1M448.75 575h1M325.25 639.39h1M358.75 616.4h1M482.75 554.72h1M194.75 687.66h1M313.25 641.73h1M463.25 584.65h1M406.75 591.43h1M279.75 663.6h1M366.25 622.92h1M238.75 680.44h1M478.75 523.11h1M251.25 672.55h1M381.75 600.68h1M343.25 642.87h1M383.75 614.85h1M336.25 634.87h1M316.75 650.84h1M318.25 648.41h1M316.75 646.99h1M477.25 544.71h1M306.25 650.54h1M364.25 625.87h1M448.75 559.13h1M274.25 667.78h1M454.25 559.96h1M260.25 671.52h1M328.75 631.96h1M258.25 671.06h1M223.25 685.49h1M482.75 546.88h1M207.25 687.24h1M210.75 684.84h1M454.25 580.7h1M373.25 605.71h1M263.75 668.47h1M406.75 588.27h1M358.75 619.19h1M320.25 642.7h1M288.25 661.19h1M471.75 559.87h1M311.25 643.81h1M378.25 612.14h1M355.25 623.1h1M279.75 667.36h1M265.25 672.51h1M270.75 666.97h1M320.25 646.15h1M238.75 678.57h1M288.25 658.15h1M415.25 597.85h1M418.75 578.85h1M314.75 643.94h1M344.75 632.49h1M302.75 652.88h1M295.25 654.61h1M325.25 644.12h1M288.25 659.86h1M350.25 617.88h1M210.75 685.44h1M253.25 673.04h1M263.75 672.39h1M272.25 668.9h1M396.25 586.61h1M383.75 605.76h1M265.25 669.06h1M433.25 587.09h1M480.75 552.72h1M290.25 650.77h1M440.25 561.91h1M383.75 618.53h1M219.75 681.72h1M427.75 563.79h1M272.25 667.04h1M216.25 684.14h1M293.75 657.06h1M318.25 641.95h1M376.75 614.4h1M341.25 627.66h1M240.75 675.39h1M341.25 639.23h1M454.25 560.01h1M201.75 686.56h1M231.75 681.11h1M420.75 578.23h1M394.25 595.75h1M392.75 599.65h1M385.25 615.09h1M228.25 681.09h1M304.25 648.87h1M353.75 634.58h1M286.75 657.42h1M445.25 549.66h1M422.75 592.18h1M224.75 682.68h1M284.75 659.93h1M348.25 621.07h1M426.25 570.5h1M283.25 659.09h1M298.75 650.25h1M235.25 679.1h1M290.25 661.41h1M341.25 632.71h1M394.25 620h1M445.25 567.47h1M270.75 670.07h1M427.75 581.61h1M475.25 537.41h1M429.75 593.08h1M311.25 649.25h1M216.25 684h1M388.75 606.57h1M429.75 596.52h1M193.25 689.6h1M420.75 576.81h1M235.25 678.42h1M456.25 561.37h1M272.25 668.9h1M420.75 588.44h1M334.25 640.12h1M297.25 651.77h1M357.25 630.03h1M346.75 628.65h1M401.25 597.17h1M441.75 564.15h1M433.25 567.8h1M484.25 544.99h1M212.25 685.52h1M284.75 661.35h1M459.75 544.07h1M355.25 629.62h1M291.75 657.05h1M473.75 553.31h1M226.75 684.66h1M226.75 685.65h1M473.75 529.59h1M254.75 672.05h1M346.75 628.65h1M388.75 615.49h1M406.75 598.44h1M401.25 607.36h1M201.75 686.44h1M373.25 608.04h1M441.75 548.26h1M334.25 634.46h1M480.75 534.05h1M191.25 687.96h1M223.25 682.06h1M290.25 656.45h1M242.25 678.54h1M364.25 618.13h1M406.75 596.61h1M466.75 543.33h1M348.25 625.03h1M265.25 664.5h1M355.25 622.04h1M360.75 606.39h1M265.25 671.51h1M194.75 689.46h1M298.75 650.69h1M260.25 672.17h1M463.25 575.82h1M396.25 602.96h1M485 534.87h1M325.25 637.8h1M346.75 644.04h1M343.25 622.35h1M440.25 574.11h1M355.25 622.04h1M196.75 687.68h1M360.75 612.1h1M244.25 674.23h1M364.25 619.77h1M401.25 596.57h1M265.25 668.01h1M240.75 683.72h1M413.75 604.3h1M316.75 647.81h1M364.25 614.53h1M396.25 600.76h1M254.75 678.45h1M283.25 658.95h1M237.25 681.2h1M426.25 570.87h1M219.75 684.76h1M221.25 684.47h1M388.75 607.74h1M413.75 585.02h1M328.75 641.76h1M244.25 679.16h1M351.75 610.71h1M286.75 665.65h1M376.75 612.32h1M485 553.14h1M468.25 571.99h1M249.75 674.31h1M480.75 532.95h1M410.25 587.75h1M464.75 555.81h1M200.25 686.86h1M198.25 688.51h1M443.75 572.35h1M473.75 561.97h1M267.25 666.35h1M191.25 687.36h1M337.75 625.61h1M277.75 667.7h1M420.75 597.1h1M344.75 635.8h1M461.25 550.82h1M408.25 595.72h1M436.75 580.41h1M376.75 614.28h1M346.75 621.33h1M290.25 659.25h1M457.75 556.07h1M191.25 687.81h1M429.75 575.9h1M424.25 580.92h1M440.25 570.41h1M343.25 630.23h1M286.75 649.94h1M480.75 566.64h1M362.75 614.15h1M418.75 560.98h1M411.75 601.94h1M286.75 664.72h1M318.25 634.41h1M485 565.3h1M417.25 586.35h1M311.25 648.58h1M281.25 666.71h1M408.25 601.68h1M212.25 685.77h1M281.25 662.13h1M406.75 591.23h1M251.25 675.32h1M256.75 676.2h1M306.25 651.13h1M376.75 607.44h1M240.75 678.41h1M279.75 660.38h1M332.75 631.62h1M362.75 625.02h1M298.75 645.53h1M226.75 682.16h1M254.75 674.5h1M336.25 639.49h1M265.25 671.46h1M267.25 667.69h1M284.75 663.32h1M194.75 686.7h1M408.25 593.24h1M456.25 561.11h1M249.75 673.73h1M337.75 644.3h1M224.75 683.44h1M376.75 601.95h1M300.75 653.07h1M445.25 567.54h1M212.25 685.14h1M249.75 676.32h1M433.25 570.67h1M267.25 670.49h1M388.75 603.74h1M426.25 569.95h1M230.25 681.63h1M344.75 622.48h1M411.75 587.09h1M261.75 668.47h1M212.25 686.69h1M216.25 682.43h1M364.25 620.88h1M357.25 623.63h1M214.25 684.75h1M346.75 633.57h1M470.25 563.57h1M438.25 565.37h1M417.25 603.18h1M473.75 554.89h1M415.25 585.18h1M258.25 669.78h1M254.75 674.02h1M399.75 608.41h1M482.75 516.34h1M387.25 605.64h1M468.25 576.92h1M328.75 637.79h1M281.25 660.38h1M240.75 677.15h1M291.75 661.54h1M228.25 681.8h1M355.25 619.43h1M284.75 661.55h1M336.25 635.01h1M251.25 674.92h1M307.75 657.22h1M360.75 609.79h1M380.25 622.42h1M200.25 687.97h1M348.25 630.38h1M300.75 654.22h1M274.25 663.8h1M454.25 568.72h1M270.75 673.5h1M251.25 674.35h1M212.25 687.01h1M424.25 572.27h1M452.75 578.46h1M454.25 543.55h1M265.25 668.05h1M238.75 677.42h1M358.75 620.02h1M328.75 641.26h1M267.25 665.64h1M369.75 621.64h1M471.75 554.54h1M238.75 679.13h1M230.25 683.11h1M328.75 639.7h1M403.25 603.72h1M468.25 555.92h1M480.75 531.22h1M265.25 668.61h1M457.75 549.87h1M452.75 551.6h1M221.25 684.95h1M244.25 676.6h1M480.75 524.21h1M411.75 589.22h1M463.25 551.75h1M203.75 684.17h1M212.25 687.66h1M401.25 565.66h1M343.25 633.74h1M321.75 643.43h1M436.75 576.29h1M205.25 686.8h1M378.25 590.34h1M226.75 682.87h1M415.25 622.21h1M224.75 681.92h1M228.25 683.26h1M193.25 689.11h1M477.25 547.87h1M223.25 682h1M456.25 593.22h1M369.75 619.91h1M418.75 591.05h1M383.75 608.11h1M221.25 683.48h1M295.25 650.76h1M362.75 619.53h1M298.75 650.42h1M360.75 611.75h1M362.75 620.95h1M330.75 638.38h1M283.25 662.34h1M433.25 592.62h1M265.25 668.87h1M346.75 627.69h1M295.25 651.09h1M438.25 549.79h1M210.75 687.08h1M196.75 686.08h1M320.25 648.75h1M237.25 681.04h1M362.75 611.09h1M253.25 674.06h1M358.75 620.82h1M353.75 619.23h1M272.25 667.86h1M466.75 555.01h1M247.75 675.95h1M341.25 644.7h1M216.25 684.07h1M397.75 610.17h1M200.25 687.73h1M436.75 576.99h1M457.75 562.56h1M238.75 679.79h1M380.25 627.59h1M216.25 686.68h1M231.75 680.29h1M397.75 595.69h1M471.75 550.48h1M448.75 552.9h1M288.25 657.28h1M327.25 633.57h1M457.75 554.53h1M212.25 684.21h1M336.25 639.87h1M397.75 586.65h1M457.75 525.93h1M286.75 662.51h1M270.75 670.23h1M401.25 596.13h1M385.25 601.84h1M270.75 665.49h1M279.75 663.73h1M334.25 630.32h1M397.75 610.85h1M332.75 640.12h1M396.25 609.61h1M281.25 660.73h1M399.75 607.64h1M304.25 652.58h1M201.75 686.74h1M459.75 563.33h1M274.25 666.89h1M381.75 619.57h1M436.75 586.19h1M413.75 584.73h1M297.25 657.35h1M448.75 572.02h1M450.75 578.65h1M295.25 657.75h1M265.25 671.85h1M388.75 615.69h1M477.25 517.93h1M341.25 628.33h1M337.75 631.33h1M415.25 593.58h1M205.25 685.57h1M443.75 541.64h1M304.25 648.32h1M369.75 630.71h1M286.75 662.01h1M420.75 594.04h1M212.25 686.61h1M297.25 663.7h1M378.25 607.32h1M355.25 624.76h1M477.25 555.57h1M424.25 565.52h1M433.25 582.46h1M376.75 614.3h1M286.75 661.74h1M420.75 593.3h1M207.25 682.44h1M212.25 684.16h1M443.75 573.12h1M376.75 620.04h1M272.25 665.67h1M330.75 636.44h1M426.25 576.04h1M207.25 685.42h1M203.75 686.69h1M233.75 680.42h1M318.25 640.46h1M309.75 652.13h1M246.25 676.64h1M351.75 637.54h1M390.75 592.04h1M464.75 560.03h1M348.25 622.52h1M387.25 616.99h1M325.25 637.37h1M403.25 601.53h1M223.25 684.14h1M244.25 676.16h1M459.75 540.56h1M261.75 670.4h1M360.75 617.89h1M429.75 584.17h1M383.75 615.56h1M216.25 686.45h1M378.25 596.45h1M418.75 578.96h1M341.25 636.36h1M251.25 672.91h1M473.75 533.43h1M448.75 522.45h1M228.25 682.69h1M448.75 579.48h1M314.75 650.25h1M351.75 626.98h1M360.75 617.93h1M276.25 666.62h1M251.25 675.4h1M353.75 626.53h1M344.75 628.4h1M249.75 674.7h1M258.25 670.7h1M198.25 685.49h1M223.25 682.01h1M468.25 567.05h1M339.75 625.05h1M450.75 575.33h1M244.25 677.84h1M438.25 585h1M249.75 673.66h1M408.25 579.66h1M196.75 685.9h1M383.75 627.18h1M344.75 651.95h1M473.75 603.51h1M436.75 572.43h1M253.25 674.63h1M254.75 673.09h1M240.75 679.04h1M471.75 569.19h1M392.75 617.33h1M415.25 574.63h1M267.25 663.95h1M290.25 662.78h1M390.75 594.89h1M306.25 656.3h1M383.75 638.99h1M193.25 687.83h1M217.75 683.91h1M256.75 673.43h1M413.75 593.69h1M353.75 631.13h1M339.75 639h1M394.25 603.72h1M394.25 587.41h1M293.75 659.19h1M217.75 686.68h1M244.25 677.94h1M429.75 601.27h1M288.25 658.84h1M404.75 602.56h1M306.25 649.94h1M256.75 675.67h1M385.25 605.34h1M193.25 686.43h1M473.75 552.16h1M208.75 685.6h1M343.25 625.44h1M270.75 668.61h1M457.75 560.73h1M258.25 672.96h1M381.75 611.19h1M351.75 630.19h1M459.75 537.95h1M244.25 676.14h1M208.75 684.11h1M274.25 670.41h1M410.25 587.02h1M272.25 668.23h1M346.75 633.14h1M238.75 678.39h1M441.75 577.02h1M298.75 653.73h1M249.75 675.42h1M415.25 570.41h1M226.75 680.27h1M214.25 685.97h1M336.25 634.31h1M440.25 558.8h1M357.25 610.6h1M240.75 678.72h1M371.25 610.39h1M417.25 604.64h1M440.25 581.98h1M376.75 611h1M403.25 580.73h1M231.75 682.28h1M376.75 599.36h1M401.25 602.05h1M411.75 579.98h1M341.25 632.84h1M251.25 672.42h1M454.25 580.29h1M268.75 664.66h1M191.25 685.99h1M343.25 634.5h1M388.75 609.28h1M210.75 682.97h1M452.75 570.41h1M450.75 545.58h1M438.25 572.88h1M327.25 631.73h1M427.75 551.27h1M406.75 594.32h1M307.75 654.46h1M267.25 668.65h1M440.25 577.86h1M358.75 632.01h1M191.25 690h1M328.75 634.92h1M265.25 669.23h1M426.25 583.55h1M265.25 667.65h1M471.75 556.48h1M390.75 602.73h1M221.25 683.39h1M263.75 667.1h1M399.75 601.56h1M346.75 619.61h1M362.75 614.19h1M290.25 656.84h1M357.25 619.21h1M260.25 671.76h1M323.75 641.78h1M452.75 548.46h1M283.25 658.65h1M484.25 553.33h1M267.25 670.09h1M281.25 664.68h1M450.75 559.49h1M244.25 674.55h1M441.75 572.01h1M366.25 615.35h1M208.75 687.74h1M268.75 669.76h1M348.25 632.19h1M454.25 564.62h1M223.25 682h1M461.25 548.72h1M445.25 560.03h1M484.25 544.11h1M337.75 630.86h1M265.25 672.58h1M226.75 681.83h1M216.25 684.09h1M450.75 556.85h1M427.75 570.82h1M433.25 590.59h1M203.75 685.68h1M413.75 592.92h1M217.75 684.63h1M388.75 608.5h1M330.75 635.85h1M394.25 583.4h1M207.25 684.49h1M364.25 627.26h1M413.75 597.2h1M253.25 674.6h1M343.25 625.2h1M339.75 639.43h1M360.75 629.11h1M450.75 560.99h1M422.75 585.59h1M283.25 663.02h1M336.25 640.12h1M298.75 643.71h1M463.25 546.01h1M300.75 649.68h1M427.75 582.68h1M313.25 645.4h1M327.25 641.37h1M417.25 609.12h1M298.75 652.42h1M242.25 677.73h1M228.25 682.6h1M392.75 609.72h1M196.75 686.14h1M276.25 668.32h1M396.25 585.45h1M351.75 613.82h1M274.25 671.59h1M364.25 610.2h1M477.25 547.47h1M242.25 680.65h1M201.75 687.1h1M240.75 678.45h1M424.25 588.84h1M231.75 677.22h1M427.75 563.64h1M426.25 569.4h1M201.75 685.21h1M415.25 578.22h1M272.25 665.54h1M235.25 677.13h1M201.75 687.5h1M403.25 594.07h1M247.75 673.65h1M193.25 686.88h1M456.25 571.54h1M464.75 542.59h1M343.25 629.84h1M351.75 633.54h1M288.25 661.11h1M411.75 585.78h1M325.25 639.78h1M410.25 595.56h1M304.25 647.54h1M383.75 589.15h1M223.25 684.21h1M385.25 610.44h1M358.75 622.42h1M362.75 623.85h1M246.25 674.3h1M387.25 598.26h1M334.25 635.44h1M216.25 686.24h1M193.25 688.23h1M313.25 650.75h1M447.25 553.72h1M224.75 681.93h1M468.25 558.39h1M254.75 672.45h1M399.75 586.68h1M316.75 647.56h1M189.75 687.59h1M429.75 577.47h1M277.75 669.86h1M223.25 683.27h1M309.75 645.59h1M485 523.76h1M242.25 675.99h1M420.75 578.27h1M350.25 637.74h1M367.75 601.71h1M318.25 648.75h1M216.25 684.7h1M482.75 557.64h1M429.75 570.58h1M302.75 653.17h1M194.75 687.92h1M240.75 681.13h1M448.75 549.34h1M471.75 531.93h1M468.25 559.22h1M443.75 548.25h1M418.75 581.72h1M214.25 686.51h1M242.25 678.08h1M477.25 547.52h1M388.75 588.52h1M313.25 649.32h1M272.25 666.36h1M456.25 578.78h1M456.25 540.43h1M399.75 604.51h1M281.25 662.1h1M201.75 687.33h1M350.25 631.49h1M484.25 565.92h1M344.75 619.34h1M247.75 675.49h1M463.25 571.87h1M396.25 604.64h1M207.25 686.18h1M480.75 550.48h1M207.25 685.57h1M256.75 672.22h1M193.25 685.8h1M362.75 633.79h1M293.75 656.71h1M288.25 656.98h1M429.75 579.07h1M336.25 645.04h1M256.75 672.73h1M336.25 647.43h1M309.75 646.46h1M221.25 683.44h1M448.75 595.64h1M246.25 682.03h1M268.75 667h1M288.25 659.05h1M281.25 662.93h1M219.75 685h1M427.75 620.05h1M332.75 636.57h1M406.75 588.47h1M228.25 681.91h1M413.75 585.24h1M475.25 538.54h1M246.25 676.62h1M366.25 630.34h1M283.25 662.34h1M470.25 536.1h1M411.75 586.61h1M438.25 587.94h1M366.25 633.9h1M427.75 582.77h1M208.75 685.32h1M466.75 572.13h1M410.25 612.27h1M254.75 670.84h1M226.75 681.13h1M268.75 668.4h1M411.75 569.34h1M318.25 648.97h1M420.75 581.01h1M277.75 665.03h1M392.75 608.22h1M286.75 655.84h1M415.25 588.56h1M231.75 679.6h1M300.75 655.47h1M346.75 629.89h1M403.25 592.35h1M307.75 649.72h1M194.75 687.37h1M344.75 628.61h1M200.25 685.47h1M452.75 546.16h1M348.25 624.85h1M380.25 598.32h1M224.75 683.39h1M284.75 656.96h1M413.75 597.79h1M344.75 630.05h1M357.25 625.54h1M290.25 662.32h1M392.75 611.21h1M298.75 658.24h1M268.75 668.47h1M306.25 652.08h1M339.75 635.76h1M311.25 644.7h1M216.25 684.29h1M364.25 620.92h1M290.25 658.44h1M240.75 679.47h1M394.25 600.56h1M411.75 593.34h1M332.75 638.5h1M466.75 570.37h1M381.75 584.42h1M434.75 587.73h1M300.75 652.4h1M394.25 603.35h1M466.75 557.46h1M276.25 666.95h1M480.75 551.4h1M256.75 671.79h1M388.75 596.32h1M210.75 684.9h1M228.25 681.69h1M297.25 656.48h1M314.75 656.82h1M228.25 683.97h1M231.75 682.75h1M457.75 567.55h1M373.25 637.31h1M408.25 587.83h1M406.75 601.83h1M373.25 618.53h1M477.25 537.22h1M254.75 671.56h1M281.25 662.77h1M480.75 573.35h1M314.75 645.09h1M477.25 546.26h1M461.25 579.13h1M346.75 629.85h1M295.25 655.81h1M484.25 565.75h1M295.25 649.57h1M388.75 609.3h1M436.75 586.39h1M330.75 646.18h1M330.75 641.45h1M408.25 593.3h1M300.75 656.59h1M300.75 647.27h1M302.75 657.4h1M318.25 645.64h1M464.75 559.67h1M454.25 603.76h1M403.25 610.39h1M314.75 640.85h1M403.25 582.79h1M337.75 639.28h1M325.25 641.49h1M374.75 596.28h1M418.75 589.27h1M366.25 628.91h1M390.75 608.98h1M420.75 600.14h1M272.25 666.35h1M454.25 581.28h1M454.25 565.46h1M482.75 561.95h1M297.25 652.07h1M298.75 656.4h1M207.25 685h1M424.25 597.12h1M415.25 593.53h1M302.75 655.02h1M441.75 570.76h1M321.75 646.29h1M295.25 657.78h1M244.25 678.51h1M408.25 594.79h1M410.25 591.27h1M440.25 583.68h1M360.75 624.68h1M191.25 688.59h1M373.25 627.93h1M366.25 601.86h1M374.75 621.73h1M228.25 680.87h1M281.25 662.72h1M268.75 667.46h1M468.25 547.59h1M380.25 603.86h1M388.75 603.09h1M404.75 592.31h1M203.75 686.65h1M394.25 604.15h1M311.25 646.85h1M448.75 564.28h1M413.75 597.95h1M383.75 616.08h1M307.75 648.55h1M390.75 609.78h1M291.75 660.64h1M295.25 654.99h1M246.25 677.8h1M418.75 584.55h1M334.25 633.49h1M254.75 671.06h1M279.75 665.89h1M424.25 561.51h1M325.25 639.59h1M216.25 683.2h1M247.75 675.16h1M205.25 687.06h1M341.25 629.67h1M267.25 671.91h1M366.25 602.14h1M336.25 631.49h1M212.25 687.16h1M219.75 684.52h1M328.75 637.98h1M448.75 578.92h1M348.25 633.98h1M397.75 604.35h1M263.75 672.63h1M194.75 687.26h1M321.75 638.36h1M408.25 575.92h1M374.75 610.82h1M238.75 679.12h1M254.75 672.52h1M350.25 626.77h1M327.25 634.39h1M216.25 684.38h1M233.75 681.03h1M237.25 678.78h1M448.75 568.37h1M214.25 684.46h1M413.75 610.78h1M403.25 593.45h1M456.25 552.83h1M441.75 581.55h1M265.25 668.09h1M464.75 553.61h1M293.75 652.4h1M221.25 683.78h1M276.25 662.52h1M268.75 668.78h1M456.25 540.24h1M274.25 663.88h1M316.75 640.4h1M464.75 557.28h1M394.25 604.69h1M394.25 614.34h1M247.75 675.44h1M221.25 683.2h1M313.25 641.04h1M244.25 677.2h1M369.75 606.01h1M196.75 688.85h1M392.75 611.88h1M374.75 624.28h1M226.75 680.3h1M238.75 679.61h1M279.75 661.5h1M339.75 634.9h1M279.75 660.23h1M470.25 566.05h1M411.75 593.21h1M381.75 609.57h1M380.25 614.39h1M438.25 563.28h1M321.75 655.19h1M369.75 620.89h1M456.25 554.77h1M247.75 675.73h1M392.75 592.21h1M383.75 591.91h1M427.75 600.91h1M396.25 597.11h1M300.75 654.51h1M325.25 645.22h1M330.75 631.86h1M466.75 540.94h1M376.75 615.15h1M351.75 629.69h1M244.25 680.16h1M261.75 670.3h1M450.75 550.87h1M316.75 642.68h1M221.25 682.7h1M323.75 645.97h1M214.25 683.9h1M283.25 665.73h1M283.25 666.19h1M440.25 574.49h1M357.25 619.99h1M228.25 681.6h1M205.25 682.72h1M353.75 618.3h1M224.75 683.31h1M420.75 575.53h1M242.25 681.18h1M293.75 655.36h1M484.25 519.39h1M346.75 627.92h1M217.75 685.09h1M401.25 601.71h1M235.25 679.69h1M410.25 606.94h1M261.75 672.19h1M457.75 582.77h1M473.75 583.11h1M420.75 598.97h1M325.25 648.05h1M456.25 573.71h1M343.25 629.2h1M203.75 685.9h1M373.25 624.83h1M392.75 592.39h1M286.75 658.62h1M230.25 681.17h1M300.75 656.75h1M475.25 574.41h1M307.75 644.02h1M286.75 660.58h1M440.25 550.84h1M366.25 609.35h1M302.75 657.1h1M401.25 588.44h1M216.25 681.6h1M431.25 574.44h1M256.75 670.78h1M205.25 686.09h1M274.25 662.9h1M309.75 653.34h1M399.75 599.74h1M260.25 669.64h1M411.75 593.74h1M358.75 622.55h1M304.25 654.96h1M448.75 570.63h1M457.75 546.04h1M311.25 645.67h1M450.75 566.75h1M450.75 560.69h1M413.75 596.06h1M357.25 619.67h1M237.25 680.57h1M327.25 634.14h1M221.25 684.2h1M277.75 665.94h1M268.75 668.63h1M313.25 653.4h1M429.75 579.41h1M321.75 629.91h1M256.75 672.78h1M429.75 591.46h1M480.75 529.55h1M205.25 686.24h1M233.75 681.32h1M327.25 641.81h1M240.75 679.33h1M477.25 564.86h1M254.75 673.83h1M457.75 547.61h1M358.75 626.1h1M321.75 645.29h1M420.75 588.59h1M431.25 577.14h1M306.25 651.55h1M392.75 604.13h1M313.25 645.49h1M291.75 659.72h1M306.25 655.4h1M485 513.15h1M327.25 646.18h1M390.75 590.13h1M350.25 628.99h1M471.75 519.23h1M290.25 664.95h1M433.25 584.96h1M373.25 604.76h1M381.75 596.91h1M415.25 597.14h1M418.75 587.4h1M438.25 577.07h1M457.75 572.63h1M318.25 646.04h1M436.75 574.11h1M327.25 639.72h1M263.75 670.47h1M293.75 662.02h1M223.25 686.3h1M436.75 598.23h1M219.75 683.28h1M454.25 551.38h1M358.75 620.78h1M380.25 624.86h1M277.75 669.69h1M276.25 664.76h1M270.75 666.69h1M431.25 576.95h1M441.75 573.46h1M367.75 629.26h1M293.75 654.44h1M328.75 636.53h1M383.75 585.75h1M309.75 648.94h1M392.75 606.89h1M288.25 655.18h1M367.75 616.03h1M403.25 575.7h1M448.75 543.77h1M403.25 606.48h1M311.25 644.31h1M320.25 650.31h1M454.25 558.19h1M452.75 559.37h1M260.25 670.64h1M249.75 675.73h1M230.25 683.52h1M362.75 610.64h1M466.75 543.21h1M383.75 603.02h1M207.25 687.21h1M387.25 612.46h1M461.25 569.9h1M231.75 678.6h1M482.75 550.93h1M235.25 681.59h1M422.75 582.63h1M477.25 544.17h1M258.25 670.68h1" stroke="#000" stroke-width="1.2" fill="none"/>
<path d="M189.8 685.13 L194.83 684.96 L199.85 684.59 L204.88 684.01 L209.9 683.24 L214.93 682.31 L219.95 681.21 L224.98 679.96 L230 678.58 L235.03 677.07 L240.05 675.43 L245.08 673.69 L250.11 671.83 L255.13 669.88 L260.16 667.83 L265.18 665.7 L270.21 663.47 L275.23 661.17 L280.26 658.79 L285.28 656.33 L290.31 653.8 L295.33 651.2 L300.36 648.53 L305.38 645.8 L310.41 642.99 L315.44 640.12 L320.46 637.19 L325.49 634.19 L330.51 631.12 L335.54 628 L340.56 624.81 L345.59 621.55 L350.61 618.24 L355.64 614.87 L360.66 611.43 L365.69 607.94 L370.72 604.39 L375.74 600.78 L380.77 597.12 L385.79 593.41 L390.82 589.66 L395.84 585.85 L400.87 582.01 L405.89 578.13 L410.92 574.21 L415.94 570.28 L420.97 566.32 L425.99 562.35 L431.02 558.37 L436.05 554.4 L441.07 550.44 L446.1 546.51 L451.12 542.61 L456.15 538.76 L461.17 534.97 L466.2 531.25 L471.22 527.62 L476.25 524.11 L481.27 520.71 L486.3 517.46" stroke="#484848" stroke-width="1.0" fill="none" stroke-linejoin="round"/>
<path d="M189.8 685.97 L194.83 685.72 L199.85 685.29 L204.88 684.69 L209.9 683.94 L214.93 683.03 L219.95 681.98 L224.98 680.8 L230 679.48 L235.03 678.04 L240.05 676.49 L245.08 674.82 L250.11 673.05 L255.13 671.17 L260.16 669.2 L265.18 667.14 L270.21 664.99 L275.23 662.75 L280.26 660.43 L285.28 658.04 L290.31 655.57 L295.33 653.03 L300.36 650.43 L305.38 647.75 L310.41 645.02 L315.44 642.22 L320.46 639.36 L325.49 636.45 L330.51 633.48 L335.54 630.46 L340.56 627.38 L345.59 624.26 L350.61 621.09 L355.64 617.87 L360.66 614.61 L365.69 611.3 L370.72 607.95 L375.74 604.56 L380.77 601.14 L385.79 597.67 L390.82 594.18 L395.84 590.65 L400.87 587.09 L405.89 583.5 L410.92 579.89 L415.94 576.25 L420.97 572.6 L425.99 568.92 L431.02 565.24 L436.05 561.54 L441.07 557.83 L446.1 554.12 L451.12 550.41 L456.15 546.71 L461.17 543.01 L466.2 539.33 L471.22 535.67 L476.25 532.04 L481.27 528.44 L486.3 524.87" stroke="#0a0a0a" stroke-width="1.25" fill="none" stroke-linejoin="round"/>
<path d="M189.8 687.4 L194.83 687.24 L199.85 686.89 L204.88 686.37 L209.9 685.68 L214.93 684.84 L219.95 683.85 L224.98 682.73 L230 681.48 L235.03 680.1 L240.05 678.61 L245.08 677.02 L250.11 675.33 L255.13 673.54 L260.16 671.66 L265.18 669.7 L270.21 667.66 L275.23 665.55 L280.26 663.37 L285.28 661.13 L290.31 658.82 L295.33 656.46 L300.36 654.04 L305.38 651.57 L310.41 649.06 L315.44 646.49 L320.46 643.89 L325.49 641.24 L330.51 638.55 L335.54 635.82 L340.56 633.06 L345.59 630.26 L350.61 627.43 L355.64 624.56 L360.66 621.66 L365.69 618.74 L370.72 615.78 L375.74 612.79 L380.77 609.77 L385.79 606.73 L390.82 603.66 L395.84 600.56 L400.87 597.43 L405.89 594.28 L410.92 591.11 L415.94 587.91 L420.97 584.69 L425.99 581.44 L431.02 578.18 L436.05 574.89 L441.07 571.58 L446.1 568.26 L451.12 564.92 L456.15 561.56 L461.17 558.19 L466.2 554.81 L471.22 551.41 L476.25 548.01 L481.27 544.61 L486.3 541.2" stroke="#484848" stroke-width="1.0" fill="none" stroke-linejoin="round"/>
<path d="M189.8 688.86 L194.83 688.78 L199.85 688.5 L204.88 688.03 L209.9 687.38 L214.93 686.57 L219.95 685.62 L224.98 684.53 L230 683.32 L235.03 682 L240.05 680.58 L245.08 679.07 L250.11 677.47 L255.13 675.8 L260.16 674.05 L265.18 672.24 L270.21 670.37 L275.23 668.45 L280.26 666.47 L285.28 664.44 L290.31 662.37 L295.33 660.25 L300.36 658.09 L305.38 655.89 L310.41 653.66 L315.44 651.38 L320.46 649.07 L325.49 646.72 L330.51 644.33 L335.54 641.9 L340.56 639.44 L345.59 636.94 L350.61 634.4 L355.64 631.82 L360.66 629.21 L365.69 626.56 L370.72 623.87 L375.74 621.14 L380.77 618.38 L385.79 615.58 L390.82 612.75 L395.84 609.88 L400.87 606.98 L405.89 604.06 L410.92 601.1 L415.94 598.13 L420.97 595.13 L425.99 592.13 L431.02 589.11 L436.05 586.09 L441.07 583.07 L446.1 580.06 L451.12 577.07 L456.15 574.11 L461.17 571.19 L466.2 568.31 L471.22 565.49 L476.25 562.75 L481.27 560.09 L486.3 557.53" stroke="#0a0a0a" stroke-width="1.25" fill="none" stroke-linejoin="round"/>
<path d="M189.8 689.79 L194.83 689.67 L199.85 689.35 L204.88 688.85 L209.9 688.19 L214.93 687.37 L219.95 686.43 L224.98 685.36 L230 684.18 L235.03 682.89 L240.05 681.52 L245.08 680.06 L250.11 678.53 L255.13 676.93 L260.16 675.26 L265.18 673.54 L270.21 671.76 L275.23 669.93 L280.26 668.06 L285.28 666.14 L290.31 664.19 L295.33 662.19 L300.36 660.16 L305.38 658.09 L310.41 655.98 L315.44 653.84 L320.46 651.66 L325.49 649.44 L330.51 647.19 L335.54 644.9 L340.56 642.58 L345.59 640.22 L350.61 637.81 L355.64 635.38 L360.66 632.9 L365.69 630.38 L370.72 627.83 L375.74 625.23 L380.77 622.6 L385.79 619.93 L390.82 617.23 L395.84 614.49 L400.87 611.72 L405.89 608.92 L410.92 606.1 L415.94 603.25 L420.97 600.39 L425.99 597.52 L431.02 594.63 L436.05 591.75 L441.07 588.88 L446.1 586.02 L451.12 583.19 L456.15 580.39 L461.17 577.65 L466.2 574.96 L471.22 572.34 L476.25 569.81 L481.27 567.38 L486.3 565.07" stroke="#484848" stroke-width="1.0" fill="none" stroke-linejoin="round"/>
<g font-size="5.9" fill="#111" font-weight="bold">
<text transform="translate(490.7 519.1) scale(0.91 1)">97<tspan font-size="3.4" dy="-2.1">th</tspan></text>
<text transform="translate(490.7 526.8) scale(0.91 1)">90<tspan font-size="3.4" dy="-2.1">th</tspan></text>
<text transform="translate(490.7 543.1) scale(0.91 1)">50<tspan font-size="3.4" dy="-2.1">th</tspan></text>
<text transform="translate(490.7 559.1) scale(0.91 1)">10<tspan font-size="3.4" dy="-2.1">th</tspan></text>
<text transform="translate(490.7 566.8) scale(0.91 1)">3<tspan font-size="3.4" dy="-2.1">rd</tspan></text>
</g>
</svg></body></html>
